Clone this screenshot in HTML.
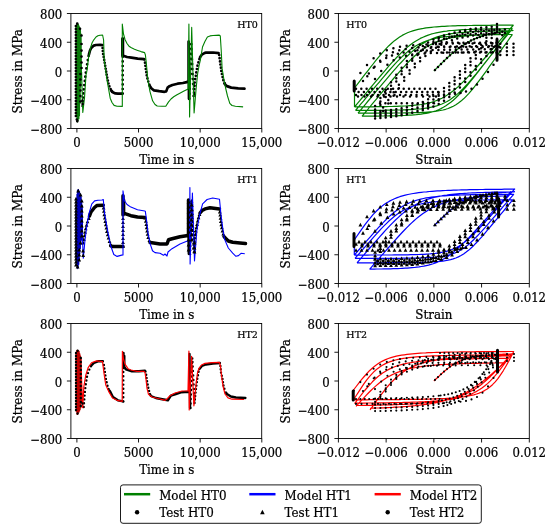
<!DOCTYPE html>
<html><head><meta charset="utf-8"><title>Figure</title>
<style>html,body{margin:0;padding:0;background:#fff;} svg{display:block;} text{font-family:'DejaVu Serif', 'Liberation Serif', serif;fill:#000;stroke:#000;stroke-width:0.22px;}</style>
</head><body>
<svg width="550" height="532" viewBox="0 0 550 532">
<rect width="550" height="532" fill="#fff"/>
<defs>
<clipPath id="cp00"><rect x="70.9" y="13.5" width="190.79999999999998" height="115"/></clipPath>
<clipPath id="cp01"><rect x="338.4" y="13.5" width="190.89999999999998" height="115"/></clipPath>
<clipPath id="cp10"><rect x="70.9" y="168.5" width="190.79999999999998" height="115"/></clipPath>
<clipPath id="cp11"><rect x="338.4" y="168.5" width="190.89999999999998" height="115"/></clipPath>
<clipPath id="cp20"><rect x="70.9" y="323.5" width="190.79999999999998" height="115"/></clipPath>
<clipPath id="cp21"><rect x="338.4" y="323.5" width="190.89999999999998" height="115"/></clipPath>
</defs>
<g clip-path="url(#cp00)">
<path d="M88.9 54.6L90 50.5L91.2 48L93.8 45.6L96 45L100 44.9L102.4 45.1M111.2 90.5L112.8 92.3L115.4 93.4L118 93.6L122.2 93.6M122.4 55.6L122.4 38.7M122.9 38.7L122.9 55.5L124 55.9L127 57L131.4 57.7L137.7 58.7L144.1 59.2M149.5 85.5L151.5 88.5L154 90.3L159.2 91.2L164.5 91.8L166.2 91.4L167.6 87.6L169.5 86.2L172.4 85L177.6 83.7L182.9 83L186.8 82.1L188.2 81.3M188.6 81.3L188.6 41.5L189 98.8M200 57.2L201.8 54.7L204.9 52.9L206 52.7L213 52.5L218.6 53.2M224.5 83.5L226.3 85.9L231.2 87.6L238.2 88.4L244.5 88.7" fill="none" stroke="#000" stroke-width="2.7" stroke-linejoin="round" stroke-linecap="round"/>
<path d="M82.6 106h0M82.7 101.8h0M82.9 97.6h0M83.4 93.4h0M83.8 89.3h0M84.3 85.1h0M84.8 80.9h0M85.3 76.7h0M85.8 72.6h0M86.4 68.4h0M87.1 64.3h0M87.8 60.1h0M88.6 56h0M102.6 48h0M102.8 51h0M103.1 54h0M103.7 56.9h0M104.2 59.9h0M104.7 62.8h0M105.2 65.8h0M105.7 68.8h0M106.2 71.7h0M106.7 74.7h0M107.2 77.6h0M107.9 80.6h0M108.5 83.5h0M109.4 86.3h0M110.6 89.1h0M112.1 91.7h0M122.7 93.6h0M122.7 89h0M122.7 84.4h0M122.7 79.8h0M122.7 75.2h0M122.7 70.6h0M122.7 66h0M122.7 61.4h0M122.7 56.8h0M144.4 59.5h0M145 62.7h0M145.4 65.8h0M145.8 69h0M146.3 72.2h0M146.7 75.3h0M147.4 78.4h0M148.3 81.5h0M149.3 84.5h0M189.3 98.8h0M189.5 93.8h0M189.7 88.8h0M189.9 83.8h0M190.1 78.8h0M190.3 73.8h0M190.5 68.8h0M190.7 63.8h0M190.8 58.8h0M191 53.8h0M191.2 48.8h0M191.3 44.2h0M191.5 49.2h0M191.7 54.2h0M191.9 59.2h0M192.1 64.1h0M192.3 69.1h0M192.6 74.1h0M193 79.1h0M193.3 84.1h0M193.7 89.1h0M194.1 94.1h0M193.6 96h0M194 92.6h0M194.4 89.2h0M194.6 85.8h0M194.7 82.5h0M195.2 79.1h0M195.8 75.8h0M196.3 72.4h0M196.9 69h0M197.5 65.7h0M198.4 62.4h0M199.4 59.2h0M219.2 55h0M219.6 58.2h0M220 61.4h0M220.4 64.5h0M220.9 67.7h0M221.3 70.9h0M221.9 74h0M222.6 77.1h0M223.3 80.2h0M224.6 83.2h0" stroke="#000" stroke-width="2.7" stroke-linecap="round"/>
<path d="M75.9 26L76.2 114.6L76.6 23.8L76.9 121.1L77.2 23.3L77.5 121.9L77.9 23.7L78.2 120.5L78.5 24.5L78.9 118.8L79.2 26L79.5 115.8L79.8 27.6L80.2 103.2L80.5 30.4L80.8 86.9L81.1 34.1L81.5 78" fill="none" stroke="#0a7a0a" stroke-width="1.1" stroke-linejoin="round"/>
<path d="M81.6 72L82.8 112.4L84.5 98L86 75L87.1 70L88.5 58L90.5 48L92 43L93.8 39.8L96 37L97.9 35.7L100 35.2L102.6 35L103.6 40L104.2 60L107 80L110.2 98.2L112 102.5L114.1 105.4L117 106.2L122.3 106.4L122.3 24.1L123.5 34L125 39.5L127 43.5L129 46.2L131.4 47.8L134.5 49.3L137.7 50.4L141 51.6L144.6 52.6L145.4 55L146.2 62L148 81L150 91.6L152.6 100.8L155 104.5L157.2 106L162 106.3L165.8 106.2L168.4 102.1L171 99L173.7 96.8L177 94.7L180.3 92.9L184 90.9L188.2 89L188.9 24.1L189.6 116.9L191.7 27.4L194.1 112.9L196 90L197.6 74L199 66L200.4 60L202.5 47L204.9 41.5L207.4 36.9L210 35.9L213 35.5L219.3 35.1L220.3 36L221.2 50L222.1 68.4L224 80L225.6 88L227.5 96L229.8 103.4L232 105.5L235.4 106.2L243.1 106.9" fill="none" stroke="#008000" stroke-width="1.1" stroke-linejoin="round"/>
<path d="M75.9 26h0M75.9 29h0M75.9 32h0M75.9 35h0M75.9 38h0M75.9 41h0M75.9 44h0M75.9 47h0M75.9 50h0M75.9 53h0M75.9 56h0M75.9 59h0M75.9 62h0M75.9 65h0M75.9 68h0M75.9 71h0M75.9 74h0M75.9 77h0M75.9 80h0M75.9 83h0M75.9 86h0M75.9 89h0M75.9 92h0M75.9 95h0M75.9 98h0M75.9 101h0M75.9 104h0M75.9 107h0M75.9 110h0M75.9 113h0M75.9 116h0M81.5 35.5h0M81.5 44h0M81.5 50.6h0M81.5 56.6h0M81.5 62.5h0M81.5 68h0M80.4 74h0M80.4 79.5h0M80.4 85h0M80.4 90.5h0M80.4 96h0M80.4 101.5h0M77.2 23.6h0M80 28.8h0M77.3 121.2h0M76.8 119.5h0M82.5 100.5h0M82.6 104h0" stroke="#000" stroke-width="2.7" stroke-linecap="round"/>
</g>
<g clip-path="url(#cp01)">
<path d="M433.9 71L435.2 69.7L436.5 68.3L437.8 67L439.2 65.7L440.5 64.4L441.8 63.1L443.1 61.8L444.5 60.5L445.8 59.2L447.1 58L448.5 56.8L449.8 55.5L451.1 54.4L452.4 53.2L453.8 52.1L455.1 51L456.4 49.9L457.7 48.9L459.1 47.9L460.4 47L461.7 46L463.1 45.2L464.4 44.3L465.7 43.5L467 42.7L468.4 42L469.7 41.3L471 40.6L472.3 40L473.7 39.4L475 38.8L476.3 38.2L477.7 37.7L479 37.2L480.3 36.8L481.6 36.3L483 35.9L484.3 35.5L485.6 35.1L486.9 34.8L488.3 34.4L489.6 34.1L490.9 33.8L492.3 33.5L493.6 33.2L494.9 33L496.2 32.7L497.6 32.5L498.9 32.3L500.2 32.1L501.6 31.9L502.9 31.7L504.2 31.5L505.5 31.3L506.9 31.2L508.2 31L509.5 30.9L510.8 30.7L512.2 30.6L513.5 30.5M354.5 88L357.1 84.6L359.8 81.1L362.4 77.7L365.1 74.2L367.8 70.8L370.4 67.4L373.1 64L375.7 60.7L378.4 57.4L381 54.3L383.6 51.3L386.3 48.4L388.9 45.7L391.6 43.2L394.2 40.9L396.9 38.9L399.6 37.1L402.2 35.4L404.9 34L407.5 32.8L410.1 31.8L412.8 30.9L415.4 30.1L418.1 29.4L420.8 28.8L423.4 28.4L426.1 27.9L428.7 27.6L431.4 27.3L434 27L436.6 26.8L439.3 26.6L441.9 26.4L444.6 26.3L447.2 26.1L449.9 26L452.6 25.9L455.2 25.8L457.9 25.7L460.5 25.7L463.1 25.6L465.8 25.6L468.4 25.5L471.1 25.5L473.8 25.4L476.4 25.4L479.1 25.4L481.7 25.3L484.4 25.3L487 25.3L489.6 25.3L492.3 25.2L494.9 25.2L497.6 25.2L500.2 25.2L502.9 25.2L505.6 25.2L508.2 25.2L510.9 25.1L513.5 25.1M513.5 25L510.9 28L508.2 31.1L505.6 34.1L502.9 37.2L500.2 40.2L497.6 43.3L494.9 46.3L492.3 49.4L489.6 52.4L487 55.5L484.4 58.5L481.7 61.5L479.1 64.5L476.4 67.5L473.8 70.5L471.1 73.4L468.4 76.3L465.8 79.1L463.1 81.8L460.5 84.4L457.9 86.9L455.2 89.2L452.6 91.3L449.9 93.3L447.2 95.1L444.6 96.7L441.9 98.2L439.3 99.4L436.6 100.5L434 101.5L431.4 102.3L428.7 103L426.1 103.6L423.4 104.1L420.8 104.5L418.1 104.8L415.4 105.1L412.8 105.4L410.1 105.6L407.5 105.8L404.9 106L402.2 106.1L399.6 106.2L396.9 106.3L394.2 106.4L391.6 106.5L388.9 106.5L386.3 106.6L383.6 106.6L381 106.7L378.4 106.7L375.7 106.7L373.1 106.8L370.4 106.8L367.8 106.8L365.1 106.8L362.4 106.8L359.8 106.9L357.1 106.9L354.5 106.9M354.5 107L357.1 103.8L359.8 100.7L362.4 97.5L365 94.4L367.7 91.2L370.3 88L372.9 84.9L375.6 81.7L378.2 78.6L380.8 75.5L383.5 72.4L386.1 69.3L388.7 66.2L391.4 63.2L394 60.3L396.6 57.5L399.3 54.8L401.9 52.2L404.5 49.7L407.2 47.4L409.8 45.2L412.4 43.3L415.1 41.5L417.7 39.9L420.3 38.4L423 37.2L425.6 36.1L428.2 35.1L430.9 34.2L433.5 33.5L436.1 32.9L438.8 32.3L441.4 31.8L444 31.4L446.7 31.1L449.3 30.7L451.9 30.5L454.6 30.3L457.2 30.1L459.8 29.9L462.5 29.7L465.1 29.6L467.7 29.5L470.4 29.4L473 29.3L475.6 29.2L478.3 29.1L480.9 29.1L483.5 29L486.2 29L488.8 28.9L491.4 28.9L494.1 28.9L496.7 28.8L499.3 28.8L502 28.8L504.6 28.7L507.2 28.7L509.9 28.7L512.5 28.7M512.5 28.5L509.9 31.8L507.3 35L504.6 38.3L502 41.6L499.4 44.9L496.8 48.1L494.2 51.4L491.6 54.7L488.9 57.9L486.3 61.2L483.7 64.4L481.1 67.7L478.5 70.9L475.9 74.1L473.2 77.2L470.6 80.3L468 83.3L465.4 86.1L462.8 88.9L460.2 91.5L457.6 93.9L454.9 96.1L452.3 98.1L449.7 99.9L447.1 101.5L444.5 102.8L441.9 104L439.2 105L436.6 105.9L434 106.6L431.4 107.2L428.8 107.7L426.1 108.1L423.5 108.5L420.9 108.8L418.3 109L415.7 109.2L413.1 109.4L410.4 109.6L407.8 109.7L405.2 109.8L402.6 109.9L400 110L397.4 110L394.8 110.1L392.1 110.1L389.5 110.2L386.9 110.2L384.3 110.3L381.7 110.3L379.1 110.3L376.4 110.3L373.8 110.3L371.2 110.4L368.6 110.4L366 110.4L363.4 110.4L360.7 110.4L358.1 110.4L355.5 110.4M355.5 110.5L358.1 107.4L360.7 104.2L363.4 101.1L366 97.9L368.6 94.8L371.2 91.7L373.8 88.5L376.4 85.4L379.1 82.3L381.7 79.2L384.3 76.1L386.9 73L389.5 70L392.1 67.1L394.8 64.2L397.4 61.4L400 58.8L402.6 56.2L405.2 53.8L407.8 51.6L410.4 49.6L413.1 47.7L415.7 46L418.3 44.5L420.9 43.2L423.5 42L426.1 41L428.8 40.1L431.4 39.4L434 38.7L436.6 38.1L439.2 37.6L441.9 37.2L444.5 36.8L447.1 36.5L449.7 36.3L452.3 36L454.9 35.8L457.6 35.6L460.2 35.5L462.8 35.4L465.4 35.2L468 35.1L470.6 35.1L473.2 35L475.9 34.9L478.5 34.8L481.1 34.8L483.7 34.7L486.3 34.7L488.9 34.7L491.6 34.6L494.2 34.6L496.8 34.6L499.4 34.6L502 34.5L504.6 34.5L507.3 34.5L509.9 34.5L512.5 34.5M512.5 34.3L509.9 37.9L507.4 41.5L504.8 45.1L502.2 48.7L499.6 52.3L497.1 55.9L494.5 59.5L491.9 63.1L489.3 66.7L486.8 70.3L484.2 73.8L481.6 77.4L479 80.8L476.4 84.2L473.9 87.5L471.3 90.6L468.7 93.6L466.1 96.3L463.6 98.8L461 101.1L458.4 103.1L455.9 104.8L453.3 106.2L450.7 107.4L448.1 108.5L445.6 109.3L443 110L440.4 110.5L437.8 111L435.2 111.4L432.7 111.7L430.1 111.9L427.5 112.1L424.9 112.3L422.4 112.4L419.8 112.6L417.2 112.7L414.6 112.7L412.1 112.8L409.5 112.9L406.9 112.9L404.4 112.9L401.8 113L399.2 113L396.6 113L394.1 113L391.5 113.1L388.9 113.1L386.3 113.1L383.8 113.1L381.2 113.1L378.6 113.1L376 113.1L373.4 113.1L370.9 113.1L368.3 113.2L365.7 113.2L363.1 113.2L360.6 113.2L358 113.2M358 113.2L360.5 110.2L363.1 107.1L365.6 104.1L368.1 101L370.7 98L373.2 95L375.7 91.9L378.3 88.9L380.8 85.9L383.3 82.8L385.9 79.8L388.4 76.8L390.9 73.9L393.5 70.9L396 68.1L398.5 65.2L401.1 62.5L403.6 59.8L406.1 57.2L408.7 54.7L411.2 52.4L413.7 50.2L416.3 48.1L418.8 46.2L421.3 44.5L423.9 42.9L426.4 41.5L428.9 40.2L431.5 39.1L434 38L436.5 37.1L439.1 36.4L441.6 35.7L444.1 35.1L446.7 34.5L449.2 34.1L451.7 33.7L454.3 33.3L456.8 33L459.3 32.7L461.9 32.5L464.4 32.3L466.9 32.1L469.5 31.9L472 31.8L474.5 31.6L477.1 31.5L479.6 31.4L482.1 31.3L484.7 31.3L487.2 31.2L489.7 31.1L492.3 31.1L494.8 31L497.3 31L499.9 30.9L502.4 30.9L504.9 30.9L507.5 30.8L510 30.8M510 30.5L507.5 33.7L505.1 36.9L502.6 40.1L500.1 43.3L497.7 46.5L495.2 49.7L492.7 52.9L490.3 56.2L487.8 59.4L485.3 62.6L482.9 65.7L480.4 68.9L477.9 72.1L475.5 75.2L473 78.4L470.5 81.4L468.1 84.4L465.6 87.4L463.1 90.2L460.7 92.9L458.2 95.5L455.7 98L453.3 100.2L450.8 102.3L448.3 104.1L445.9 105.8L443.4 107.3L440.9 108.6L438.5 109.7L436 110.7L433.5 111.5L431.1 112.2L428.6 112.8L426.1 113.3L423.7 113.7L421.2 114.1L418.7 114.4L416.3 114.7L413.8 114.9L411.3 115.1L408.9 115.2L406.4 115.4L403.9 115.5L401.5 115.6L399 115.7L396.5 115.8L394.1 115.8L391.6 115.9L389.1 115.9L386.7 116L384.2 116L381.7 116L379.3 116.1L376.8 116.1L374.3 116.1L371.9 116.1L369.4 116.1L366.9 116.2L364.5 116.2L362 116.2M362 116.3L364.4 113.4L366.9 110.5L369.3 107.5L371.7 104.6L374.2 101.7L376.6 98.8L379 95.9L381.5 92.9L383.9 90L386.3 87.1L388.8 84.2L391.2 81.4L393.6 78.5L396.1 75.7L398.5 72.9L400.9 70.1L403.4 67.4L405.8 64.8L408.2 62.2L410.7 59.8L413.1 57.5L415.5 55.2L418 53.2L420.4 51.2L422.8 49.4L425.3 47.8L427.7 46.3L430.1 44.9L432.6 43.7L435 42.6L437.4 41.6L439.9 40.7L442.3 39.9L444.7 39.3L447.2 38.7L449.6 38.1L452 37.7L454.5 37.3L456.9 36.9L459.3 36.6L461.8 36.3L464.2 36.1L466.6 35.9L469.1 35.7L471.5 35.5L473.9 35.4L476.4 35.2L478.8 35.1L481.2 35L483.7 34.9L486.1 34.8L488.5 34.7L491 34.7L493.4 34.6L495.8 34.6L498.3 34.5L500.7 34.5L503.1 34.4L505.6 34.4L508 34.4M354.5 107L354.5 88" fill="none" stroke="#008000" stroke-width="1.2" stroke-linejoin="round"/>
<path d="M354.2 81L354.2 91M497 39.4L497 60.3" fill="none" stroke="#000" stroke-width="3.0" stroke-linecap="round"/>
<path d="M435 69.9h0M438 66.9h0M441 63.9h0M444 61h0M447 58.1h0M450 55.3h0M453 52.7h0M456 50.3h0M459 48h0M462 45.9h0M465 43.9h0M468 42.2h0M471 40.6h0M474 39.2h0M477 38h0M480 36.9h0M483 35.9h0M486 35h0M489 34.3h0M492 33.6h0M495 33h0M360.4 73.1h0M367 64.9h0M373.6 58.3h0M380.2 53.6h0M386.8 50.3h0M393.4 48.2h0M400 46.8h0M406.6 45.8h0M413.2 45.2h0M419.8 44.7h0M426.4 44.4h0M433 44.1h0M439.6 43.9h0M446.2 43.8h0M452.8 43.6h0M459.4 43.6h0M466 43.5h0M472.6 43.4h0M479.2 43.4h0M485.8 43.3h0M492.4 43.3h0M367.3 76.2h0M373.7 67.8h0M380.1 60.7h0M386.5 55.6h0M392.9 52.3h0M399.3 50.2h0M405.7 49h0M412.1 48.1h0M418.5 47.6h0M424.9 47.2h0M431.3 47h0M437.7 46.8h0M444.1 46.6h0M450.5 46.5h0M456.9 46.4h0M463.3 46.4h0M469.7 46.3h0M476.1 46.3h0M482.5 46.2h0M488.9 46.2h0M495.3 46.2h0M363 81h0M368.8 73.4h0M374.6 66.8h0M380.4 61.7h0M386.2 58h0M392 55.4h0M397.8 53.7h0M403.6 52.5h0M409.4 51.7h0M415.2 51.1h0M421 50.7h0M426.8 50.4h0M432.6 50.1h0M438.4 49.9h0M444.2 49.8h0M450 49.7h0M455.8 49.6h0M461.6 49.5h0M467.4 49.4h0M473.2 49.4h0M479 49.3h0M484.8 49.3h0M490.6 49.3h0M496.4 49.2h0M375 79h0M381.2 71.1h0M387.4 64.7h0M393.6 60.2h0M399.8 57.4h0M406 55.7h0M412.2 54.6h0M418.4 53.9h0M424.6 53.4h0M430.8 53.1h0M437 52.9h0M443.2 52.7h0M449.4 52.6h0M455.6 52.5h0M461.8 52.4h0M468 52.3h0M474.2 52.3h0M480.4 52.3h0M486.6 52.2h0M492.8 52.2h0M375.1 111.4h0M380.4 111h0M385.7 110.5h0M391 109.9h0M396.3 109.2h0M401.6 108.3h0M406.9 107.2h0M412.2 105.8h0M417.5 104.1h0M422.8 101.9h0M428.1 99.3h0M433.4 96.1h0M438.7 92.3h0M444 87.9h0M449.3 82.9h0M454.6 77.3h0M459.9 71.3h0M465.2 64.9h0M470.5 58.3h0M475.8 51.5h0M481.1 44.7h0M486.4 37.8h0M491.7 30.9h0M497 24h0M375.1 105.9h0M380.4 97.9h0M385.7 90h0M391 82.3h0M396.3 74.8h0M401.6 67.7h0M406.9 61.1h0M412.2 55.3h0M417.5 50.3h0M422.8 46h0M428.1 42.5h0M433.4 39.6h0M438.7 37.4h0M444 35.5h0M449.3 34.1h0M454.6 32.9h0M459.9 32h0M465.2 31.3h0M470.5 30.7h0M475.8 30.2h0M481.1 29.8h0M486.4 29.5h0M491.7 29.2h0M497 29h0M375.1 114.9h0M380.4 114.5h0M385.7 114h0M391 113.4h0M396.3 112.7h0M401.6 111.8h0M406.9 110.7h0M412.2 109.3h0M417.5 107.6h0M422.8 105.4h0M428.1 102.8h0M433.4 99.6h0M438.7 95.8h0M444 91.4h0M449.3 86.4h0M454.6 80.8h0M459.9 74.8h0M465.2 68.4h0M470.5 61.8h0M475.8 55h0M481.1 48.2h0M486.4 41.3h0M491.7 34.4h0M497 27.5h0M375.1 109.4h0M380.4 101.4h0M385.7 93.5h0M391 85.8h0M396.3 78.3h0M401.6 71.2h0M406.9 64.6h0M412.2 58.8h0M417.5 53.8h0M422.8 49.5h0M428.1 46h0M433.4 43.1h0M438.7 40.9h0M444 39h0M449.3 37.6h0M454.6 36.4h0M459.9 35.5h0M465.2 34.8h0M470.5 34.2h0M475.8 33.7h0M481.1 33.3h0M486.4 33h0M491.7 32.7h0M497 32.5h0M375.1 118.4h0M380.4 118h0M385.7 117.5h0M391 116.9h0M396.3 116.2h0M401.6 115.3h0M406.9 114.2h0M412.2 112.8h0M417.5 111.1h0M422.8 108.9h0M428.1 106.3h0M433.4 103.1h0M438.7 99.3h0M444 94.9h0M449.3 89.9h0M454.6 84.3h0M459.9 78.3h0M465.2 71.9h0M470.5 65.3h0M475.8 58.5h0M481.1 51.7h0M486.4 44.8h0M491.7 37.9h0M497 31h0M375.1 112.9h0M380.4 104.9h0M385.7 97h0M391 89.2h0M396.3 81.5h0M401.6 74.2h0M406.9 67.2h0M412.2 60.8h0M417.5 55h0M422.8 50h0M428.1 45.6h0M433.4 41.9h0M438.7 38.8h0M444 36.3h0M449.3 34.2h0M454.6 32.5h0M459.9 31.2h0M465.2 30h0M470.5 29.1h0M475.8 28.4h0M481.1 27.7h0M486.4 27.2h0M491.7 26.8h0M497 26.4h0M356 95h0M361.5 95h0M367 95h0M372.5 95h0M378 95h0M383.5 95h0M389 95h0M394.5 95h0M400 95h0M405.5 94.9h0M411 94.9h0M416.5 94.9h0M422 94.9h0M427.5 94.8h0M433 94.7h0M438.5 94.6h0M444 94.5h0M449.5 94.2h0M455 93.7h0M460.5 92.9h0M466 91.4h0M471.5 88.8h0M477 84.6h0M482.5 78.8h0M488 72h0M493.5 64.8h0M375.1 112.6h0M380.4 112.3h0M385.7 112h0M391 111.7h0M396.3 111.2h0M401.6 110.7h0M406.9 110h0M412.2 109.1h0M417.5 108.1h0M422.8 106.7h0M428.1 105h0M433.4 102.9h0M438.7 100.4h0M444 97.2h0M449.3 93.4h0M454.6 89h0M459.9 84h0M465.2 78.4h0M470.5 72.3h0M475.8 65.9h0M481.1 59.2h0M486.4 52.4h0M491.7 45.6h0M497 38.7h0M502.3 31.8h0M375.1 116.1h0M380.4 115.8h0M385.7 115.5h0M391 115.2h0M396.3 114.7h0M401.6 114.2h0M406.9 113.5h0M412.2 112.6h0M417.5 111.6h0M422.8 110.2h0M428.1 108.5h0M433.4 106.4h0M438.7 103.9h0M444 100.7h0M449.3 96.9h0M454.6 92.5h0M459.9 87.5h0M465.2 81.9h0M470.5 75.8h0M475.8 69.4h0M481.1 62.7h0M486.4 55.9h0M491.7 49.1h0M497 42.2h0M502.3 35.3h0M383.1 107.6h0M388.3 99.9h0M393.6 92.2h0M398.9 84.7h0M404.2 77.3h0M409.6 70.2h0M414.8 63.7h0M420.1 57.7h0M425.4 52.5h0M430.8 48h0M436 44.3h0M441.3 41.2h0M446.6 38.7h0M451.9 36.7h0M457.2 35.1h0M462.5 33.9h0M467.8 32.9h0M473.1 32.1h0M478.4 31.4h0M483.8 30.9h0M489 30.5h0M494.3 30.1h0M499.6 29.8h0M504.9 29.6h0M383.1 111.1h0M388.3 103.4h0M393.6 95.7h0M398.9 88.2h0M404.2 80.8h0M409.6 73.7h0M414.8 67.2h0M420.1 61.2h0M425.4 56h0M430.8 51.5h0M436 47.8h0M441.3 44.7h0M446.6 42.2h0M451.9 40.2h0M457.2 38.6h0M462.5 37.4h0M467.8 36.4h0M473.1 35.6h0M478.4 34.9h0M483.8 34.4h0M489 34h0M494.3 33.6h0M499.6 33.3h0M504.9 33.1h0M356 88.8h0M361.3 88.8h0M366.6 88.8h0M371.9 88.8h0M377.2 88.8h0M382.5 88.8h0M387.8 88.8h0M393.1 88.8h0M398.4 88.8h0M403.7 88.8h0M409 88.8h0M414.3 88.8h0M419.6 88.8h0M424.9 88.8h0M430.2 88.8h0M435.5 88.8h0M358.6 92.1h0M363.9 92.1h0M369.2 92.1h0M374.5 92.1h0M379.8 92.1h0M385.1 92.1h0M390.4 92.1h0M395.7 92.1h0M401 92.1h0M406.3 92.1h0M411.6 92.1h0M416.9 92.1h0M422.2 92.1h0M427.5 92.1h0M432.8 92.1h0M438.1 92.1h0M358 96.5h0M364.5 96.5h0M371 96.5h0M377.5 96.5h0M384 96.5h0M390.5 96.5h0M397 96.5h0M403.5 96.5h0M410 96.5h0M416.5 96.5h0M423 96.5h0M429.5 96.5h0M436 96.5h0M380 103.2h0M385.4 103.2h0M390.8 103.2h0M396.2 103.2h0M401.6 103.2h0M407 103.2h0M412.4 103.2h0M417.8 103.2h0M423.2 103.2h0M428.6 103.2h0M434 103.2h0M436 42.7h0M441.5 42.7h0M447 42.7h0M452.5 42.7h0M458 42.7h0M463.5 42.7h0M469 42.7h0M474.5 42.7h0M480 42.7h0M485.5 42.7h0M491 42.7h0M496.5 42.7h0M438.7 47h0M444.2 47h0M449.7 47h0M455.2 47h0M460.7 47h0M466.2 47h0M471.7 47h0M477.2 47h0M482.7 47h0M488.2 47h0M493.7 47h0M499.2 47h0M441.5 52.6h0M447 52.6h0M452.5 52.6h0M458 52.6h0M463.5 52.6h0M469 52.6h0M474.5 52.6h0M480 52.6h0M485.5 52.6h0M491 52.6h0M496.5 52.6h0M500.3 43.8h0M500.3 47.5h0M500.3 51.2h0M500.3 54.9h0M506.9 43.8h0M506.9 47.5h0M506.9 51.2h0M506.9 54.9h0M513.5 43.8h0M513.5 47.5h0M513.5 51.2h0M513.5 54.9h0" stroke="#000" stroke-width="2.5" stroke-linecap="round"/>
</g>
<g clip-path="url(#cp11)">
<path d="M433.9 226L435.2 224.6L436.6 223.3L437.9 221.9L439.3 220.6L440.6 219.3L442 218L443.3 216.7L444.7 215.4L446 214.1L447.4 212.9L448.7 211.7L450.1 210.6L451.4 209.5L452.8 208.4L454.1 207.4L455.5 206.4L456.8 205.5L458.2 204.6L459.5 203.7L460.9 202.9L462.3 202.2L463.6 201.5L465 200.8L466.3 200.2L467.7 199.6L469 199L470.4 198.5L471.7 198L473.1 197.6L474.4 197.2L475.8 196.8L477.1 196.4L478.5 196.1L479.8 195.7L481.2 195.4L482.5 195.1L483.9 194.9L485.2 194.6L486.6 194.4L487.9 194.2L489.3 194L490.7 193.8L492 193.6L493.4 193.4L494.7 193.3L496.1 193.1L497.4 193L498.8 192.8L500.1 192.7L501.5 192.6L502.8 192.5L504.2 192.4L505.5 192.3L506.9 192.2L508.2 192.1L509.6 192L510.9 191.9L512.3 191.9L513.6 191.8L515 191.7M354.3 239.9L357 236L359.7 232.2L362.3 228.4L365 224.7L367.7 221.1L370.4 217.8L373 214.7L375.7 211.8L378.4 209.2L381.1 206.9L383.8 204.8L386.4 203L389.1 201.4L391.8 200L394.5 198.7L397.2 197.6L399.8 196.7L402.5 195.9L405.2 195.2L407.9 194.5L410.5 194L413.2 193.5L415.9 193.1L418.6 192.7L421.3 192.3L423.9 192L426.6 191.8L429.3 191.5L432 191.3L434.6 191.1L437.3 190.9L440 190.8L442.7 190.6L445.4 190.5L448 190.4L450.7 190.3L453.4 190.2L456.1 190.1L458.8 190L461.4 189.9L464.1 189.9L466.8 189.8L469.5 189.7L472.1 189.7L474.8 189.6L477.5 189.6L480.2 189.5L482.9 189.5L485.5 189.4L488.2 189.4L490.9 189.4L493.6 189.3L496.3 189.3L498.9 189.3L501.6 189.3L504.3 189.2L507 189.2L509.6 189.2L512.3 189.2L515 189.2M515 188.7L512.3 191.7L509.6 194.7L507 197.7L504.3 200.7L501.6 203.7L498.9 206.7L496.3 209.7L493.6 212.7L490.9 215.7L488.2 218.7L485.5 221.6L482.9 224.5L480.2 227.4L477.5 230.3L474.8 233L472.1 235.6L469.5 238.1L466.8 240.5L464.1 242.6L461.4 244.5L458.8 246.2L456.1 247.7L453.4 248.9L450.7 250L448 250.9L445.4 251.6L442.7 252.2L440 252.7L437.3 253.1L434.6 253.5L432 253.7L429.3 254L426.6 254.1L423.9 254.3L421.3 254.4L418.6 254.5L415.9 254.6L413.2 254.7L410.5 254.7L407.9 254.8L405.2 254.8L402.5 254.9L399.8 254.9L397.2 254.9L394.5 254.9L391.8 255L389.1 255L386.4 255L383.8 255L381.1 255L378.4 255L375.7 255L373 255L370.4 255L367.7 255.1L365 255.1L362.3 255.1L359.7 255.1L357 255.1L354.3 255.1M354.3 255.1L357 252L359.6 249L362.3 245.9L364.9 242.9L367.6 239.8L370.3 236.8L372.9 233.8L375.6 230.8L378.2 227.8L380.9 225L383.6 222.2L386.2 219.5L388.9 216.9L391.5 214.5L394.2 212.3L396.9 210.2L399.5 208.3L402.2 206.6L404.8 205.1L407.5 203.7L410.2 202.5L412.8 201.5L415.5 200.6L418.1 199.8L420.8 199.1L423.5 198.5L426.1 197.9L428.8 197.5L431.4 197.1L434.1 196.8L436.8 196.5L439.4 196.2L442.1 196L444.7 195.8L447.4 195.6L450.1 195.5L452.7 195.3L455.4 195.2L458 195.1L460.7 195L463.4 194.9L466 194.9L468.7 194.8L471.3 194.7L474 194.7L476.7 194.6L479.3 194.6L482 194.5L484.6 194.5L487.3 194.5L490 194.5L492.6 194.4L495.3 194.4L497.9 194.4L500.6 194.4L503.3 194.3L505.9 194.3L508.6 194.3L511.2 194.3L513.9 194.3M513.9 194.1L511.3 197.2L508.6 200.2L506 203.3L503.3 206.4L500.7 209.5L498 212.5L495.4 215.6L492.7 218.7L490.1 221.7L487.4 224.8L484.8 227.8L482.1 230.8L479.5 233.7L476.8 236.5L474.2 239.2L471.5 241.8L468.9 244.2L466.2 246.4L463.6 248.3L460.9 250L458.3 251.5L455.6 252.7L453 253.8L450.3 254.6L447.7 255.3L445 255.9L442.4 256.3L439.7 256.7L437.1 257L434.4 257.2L431.8 257.4L429.2 257.6L426.5 257.7L423.9 257.8L421.2 257.9L418.6 258L415.9 258.1L413.3 258.1L410.6 258.1L408 258.2L405.3 258.2L402.7 258.2L400 258.3L397.4 258.3L394.7 258.3L392.1 258.3L389.4 258.3L386.8 258.3L384.1 258.3L381.5 258.3L378.8 258.3L376.2 258.4L373.5 258.4L370.9 258.4L368.2 258.4L365.6 258.4L362.9 258.4L360.3 258.4L357.6 258.4L355 258.4M355 258.4L357.6 255.4L360.3 252.3L362.9 249.3L365.5 246.3L368.2 243.3L370.8 240.3L373.4 237.3L376.1 234.3L378.7 231.5L381.3 228.6L384 225.9L386.6 223.3L389.2 220.8L391.9 218.5L394.5 216.3L397.1 214.3L399.8 212.5L402.4 210.9L405 209.5L407.7 208.2L410.3 207.1L412.9 206.2L415.6 205.3L418.2 204.6L420.8 204L423.5 203.4L426.1 203L428.7 202.6L431.4 202.2L434 201.9L436.6 201.7L439.3 201.4L441.9 201.2L444.5 201.1L447.2 200.9L449.8 200.8L452.4 200.7L455.1 200.6L457.7 200.5L460.3 200.4L463 200.3L465.6 200.3L468.2 200.2L470.9 200.1L473.5 200.1L476.1 200.1L478.8 200L481.4 200L484 200L486.7 199.9L489.3 199.9L491.9 199.9L494.6 199.9L497.2 199.8L499.8 199.8L502.5 199.8L505.1 199.8L507.7 199.8L510.4 199.8L513 199.8M513 199.6L510.4 202.7L507.8 205.8L505.2 209L502.6 212.1L500 215.2L497.4 218.3L494.8 221.4L492.2 224.5L489.6 227.6L487 230.7L484.4 233.8L481.8 236.8L479.2 239.7L476.6 242.5L474 245.2L471.4 247.7L468.8 250.1L466.2 252.1L463.6 254L461 255.5L458.4 256.9L455.8 258L453.2 258.9L450.6 259.6L448 260.2L445.4 260.7L442.8 261.1L440.2 261.4L437.6 261.7L435 261.9L432.4 262L429.8 262.1L427.2 262.3L424.6 262.3L422 262.4L419.4 262.5L416.8 262.5L414.2 262.6L411.6 262.6L409 262.6L406.4 262.6L403.8 262.7L401.2 262.7L398.6 262.7L396 262.7L393.4 262.7L390.8 262.7L388.2 262.7L385.6 262.7L383 262.8L380.4 262.8L377.8 262.8L375.2 262.8L372.6 262.8L370 262.8L367.4 262.8L364.8 262.8L362.2 262.8L359.6 262.8L357 262.8M357 262.8L359.6 259.8L362.1 256.9L364.7 253.9L367.3 251L369.8 248L372.4 245.1L375 242.2L377.5 239.3L380.1 236.4L382.7 233.5L385.2 230.7L387.8 227.9L390.4 225.2L392.9 222.6L395.5 220L398.1 217.6L400.6 215.3L403.2 213.1L405.8 211.1L408.3 209.2L410.9 207.4L413.5 205.8L416 204.4L418.6 203L421.2 201.8L423.7 200.8L426.3 199.8L428.9 198.9L431.4 198.2L434 197.5L436.6 196.9L439.1 196.3L441.7 195.9L444.3 195.4L446.8 195.1L449.4 194.7L452 194.4L454.5 194.1L457.1 193.9L459.7 193.7L462.2 193.5L464.8 193.3L467.4 193.2L469.9 193L472.5 192.9L475.1 192.8L477.6 192.7L480.2 192.6L482.8 192.5L485.3 192.4L487.9 192.4L490.5 192.3L493 192.2L495.6 192.2L498.2 192.1L500.7 192.1L503.3 192.1L505.9 192L508.4 192L511 192M511 191.5L508.6 194.1L506.3 196.7L503.9 199.3L501.6 201.9L499.2 204.5L496.9 207.1L494.5 209.6L492.1 212.2L489.8 214.8L487.4 217.4L485.1 220L482.7 222.6L480.4 225.2L478 227.7L475.6 230.3L473.3 232.8L470.9 235.3L468.6 237.8L466.2 240.2L463.9 242.6L461.5 244.9L459.2 247.2L456.8 249.3L454.4 251.4L452.1 253.3L449.7 255.1L447.4 256.7L445 258.2L442.7 259.6L440.3 260.8L437.9 261.9L435.6 262.9L433.2 263.7L430.9 264.4L428.5 265.1L426.2 265.6L423.8 266.1L421.4 266.5L419.1 266.9L416.7 267.2L414.4 267.5L412 267.7L409.7 267.9L407.3 268.1L405 268.2L402.6 268.3L400.2 268.5L397.9 268.6L395.5 268.6L393.2 268.7L390.8 268.8L388.5 268.8L386.1 268.9L383.7 268.9L381.4 269L379 269L376.7 269L374.3 269.1L372 269.1L369.6 269.1M369.6 269.3L371.9 266.6L374.2 264L376.6 261.3L378.9 258.6L381.2 255.9L383.5 253.3L385.9 250.6L388.2 248L390.5 245.3L392.8 242.7L395.2 240.1L397.5 237.5L399.8 235L402.1 232.5L404.5 230L406.8 227.6L409.1 225.3L411.4 223.1L413.7 221L416.1 218.9L418.4 217L420.7 215.2L423 213.5L425.4 211.9L427.7 210.4L430 209L432.3 207.8L434.7 206.6L437 205.6L439.3 204.6L441.6 203.7L443.9 202.9L446.3 202.2L448.6 201.6L450.9 201L453.2 200.4L455.6 200L457.9 199.5L460.2 199.2L462.5 198.8L464.9 198.5L467.2 198.2L469.5 197.9L471.8 197.7L474.1 197.5L476.5 197.3L478.8 197.1L481.1 197L483.4 196.8L485.8 196.7L488.1 196.6L490.4 196.4L492.7 196.3L495.1 196.3L497.4 196.2L499.7 196.1L502 196L504.4 196L506.7 195.9L509 195.8M354.3 255.1L354.3 239.9" fill="none" stroke="#0000ff" stroke-width="1.2" stroke-linejoin="round"/>
<path d="M354 233.4L354 246.4M498.6 198.5L498.6 217" fill="none" stroke="#000" stroke-width="3.0" stroke-linecap="round"/>
<path d="M433.1 226.3h3.8l-1.9 -3.6zM436.1 223.3h3.8l-1.9 -3.6zM439.1 220.3h3.8l-1.9 -3.6zM442.1 217.5h3.8l-1.9 -3.6zM445.1 214.7h3.8l-1.9 -3.6zM448.1 212.1h3.8l-1.9 -3.6zM451.1 209.7h3.8l-1.9 -3.6zM454.1 207.5h3.8l-1.9 -3.6zM457.1 205.5h3.8l-1.9 -3.6zM460.1 203.8h3.8l-1.9 -3.6zM463.1 202.2h3.8l-1.9 -3.6zM466.1 200.9h3.8l-1.9 -3.6zM469.1 199.7h3.8l-1.9 -3.6zM472.1 198.7h3.8l-1.9 -3.6zM475.1 197.9h3.8l-1.9 -3.6zM478.1 197.1h3.8l-1.9 -3.6zM481.1 196.5h3.8l-1.9 -3.6zM484.1 195.9h3.8l-1.9 -3.6zM487.1 195.5h3.8l-1.9 -3.6zM490.1 195h3.8l-1.9 -3.6zM493.1 194.7h3.8l-1.9 -3.6zM358.5 226.4h3.8l-1.9 -3.6zM365.1 218.3h3.8l-1.9 -3.6zM371.7 212.4h3.8l-1.9 -3.6zM378.3 208.5h3.8l-1.9 -3.6zM384.9 206.1h3.8l-1.9 -3.6zM391.5 204.7h3.8l-1.9 -3.6zM398.1 203.8h3.8l-1.9 -3.6zM404.7 203.2h3.8l-1.9 -3.6zM411.3 202.7h3.8l-1.9 -3.6zM417.9 202.5h3.8l-1.9 -3.6zM424.5 202.2h3.8l-1.9 -3.6zM431.1 202.1h3.8l-1.9 -3.6zM437.7 202h3.8l-1.9 -3.6zM444.3 201.9h3.8l-1.9 -3.6zM450.9 201.8h3.8l-1.9 -3.6zM457.5 201.8h3.8l-1.9 -3.6zM464.1 201.7h3.8l-1.9 -3.6zM470.7 201.7h3.8l-1.9 -3.6zM477.3 201.7h3.8l-1.9 -3.6zM483.9 201.6h3.8l-1.9 -3.6zM490.5 201.6h3.8l-1.9 -3.6zM365.4 230h3.8l-1.9 -3.6zM371.8 221.5h3.8l-1.9 -3.6zM378.2 214.8h3.8l-1.9 -3.6zM384.6 210.6h3.8l-1.9 -3.6zM391 208.2h3.8l-1.9 -3.6zM397.4 206.9h3.8l-1.9 -3.6zM403.8 206.1h3.8l-1.9 -3.6zM410.2 205.6h3.8l-1.9 -3.6zM416.6 205.3h3.8l-1.9 -3.6zM423 205.1h3.8l-1.9 -3.6zM429.4 205h3.8l-1.9 -3.6zM435.8 204.9h3.8l-1.9 -3.6zM442.2 204.8h3.8l-1.9 -3.6zM448.6 204.7h3.8l-1.9 -3.6zM455 204.7h3.8l-1.9 -3.6zM461.4 204.6h3.8l-1.9 -3.6zM467.8 204.6h3.8l-1.9 -3.6zM474.2 204.6h3.8l-1.9 -3.6zM480.6 204.6h3.8l-1.9 -3.6zM487 204.6h3.8l-1.9 -3.6zM493.4 204.5h3.8l-1.9 -3.6zM361.1 234.7h3.8l-1.9 -3.6zM366.9 227h3.8l-1.9 -3.6zM372.7 220.7h3.8l-1.9 -3.6zM378.5 216.2h3.8l-1.9 -3.6zM384.3 213.3h3.8l-1.9 -3.6zM390.1 211.5h3.8l-1.9 -3.6zM395.9 210.3h3.8l-1.9 -3.6zM401.7 209.5h3.8l-1.9 -3.6zM407.5 209h3.8l-1.9 -3.6zM413.3 208.7h3.8l-1.9 -3.6zM419.1 208.4h3.8l-1.9 -3.6zM424.9 208.2h3.8l-1.9 -3.6zM430.7 208.1h3.8l-1.9 -3.6zM436.5 208h3.8l-1.9 -3.6zM442.3 207.9h3.8l-1.9 -3.6zM448.1 207.8h3.8l-1.9 -3.6zM453.9 207.8h3.8l-1.9 -3.6zM459.7 207.7h3.8l-1.9 -3.6zM465.5 207.7h3.8l-1.9 -3.6zM471.3 207.7h3.8l-1.9 -3.6zM477.1 207.6h3.8l-1.9 -3.6zM482.9 207.6h3.8l-1.9 -3.6zM488.7 207.6h3.8l-1.9 -3.6zM494.5 207.6h3.8l-1.9 -3.6zM373.1 232.7h3.8l-1.9 -3.6zM379.3 224.7h3.8l-1.9 -3.6zM385.5 219h3.8l-1.9 -3.6zM391.7 215.5h3.8l-1.9 -3.6zM397.9 213.6h3.8l-1.9 -3.6zM404.1 212.5h3.8l-1.9 -3.6zM410.3 211.9h3.8l-1.9 -3.6zM416.5 211.5h3.8l-1.9 -3.6zM422.7 211.2h3.8l-1.9 -3.6zM428.9 211h3.8l-1.9 -3.6zM435.1 210.9h3.8l-1.9 -3.6zM441.3 210.8h3.8l-1.9 -3.6zM447.5 210.7h3.8l-1.9 -3.6zM453.7 210.7h3.8l-1.9 -3.6zM459.9 210.7h3.8l-1.9 -3.6zM466.1 210.6h3.8l-1.9 -3.6zM472.3 210.6h3.8l-1.9 -3.6zM478.5 210.6h3.8l-1.9 -3.6zM484.7 210.6h3.8l-1.9 -3.6zM490.9 210.5h3.8l-1.9 -3.6zM373.2 260.7h3.8l-1.9 -3.6zM378.5 260.6h3.8l-1.9 -3.6zM383.8 260.5h3.8l-1.9 -3.6zM389.1 260.4h3.8l-1.9 -3.6zM394.4 260.3h3.8l-1.9 -3.6zM399.7 260.1h3.8l-1.9 -3.6zM405 259.8h3.8l-1.9 -3.6zM410.3 259.5h3.8l-1.9 -3.6zM415.6 258.9h3.8l-1.9 -3.6zM420.9 258.2h3.8l-1.9 -3.6zM426.2 257.2h3.8l-1.9 -3.6zM431.5 255.7h3.8l-1.9 -3.6zM436.8 253.7h3.8l-1.9 -3.6zM442.1 251h3.8l-1.9 -3.6zM447.4 247.4h3.8l-1.9 -3.6zM452.7 243h3.8l-1.9 -3.6zM458 237.9h3.8l-1.9 -3.6zM463.3 232.1h3.8l-1.9 -3.6zM468.6 226.1h3.8l-1.9 -3.6zM473.9 219.8h3.8l-1.9 -3.6zM479.2 213.5h3.8l-1.9 -3.6zM484.5 207.2h3.8l-1.9 -3.6zM489.8 200.8h3.8l-1.9 -3.6zM495.1 194.4h3.8l-1.9 -3.6zM373.2 253.8h3.8l-1.9 -3.6zM378.5 246.5h3.8l-1.9 -3.6zM383.8 239.3h3.8l-1.9 -3.6zM389.1 232.7h3.8l-1.9 -3.6zM394.4 226.6h3.8l-1.9 -3.6zM399.7 221.3h3.8l-1.9 -3.6zM405 216.9h3.8l-1.9 -3.6zM410.3 213.2h3.8l-1.9 -3.6zM415.6 210.2h3.8l-1.9 -3.6zM420.9 207.9h3.8l-1.9 -3.6zM426.2 206h3.8l-1.9 -3.6zM431.5 204.5h3.8l-1.9 -3.6zM436.8 203.3h3.8l-1.9 -3.6zM442.1 202.4h3.8l-1.9 -3.6zM447.4 201.6h3.8l-1.9 -3.6zM452.7 201h3.8l-1.9 -3.6zM458 200.5h3.8l-1.9 -3.6zM463.3 200.1h3.8l-1.9 -3.6zM468.6 199.7h3.8l-1.9 -3.6zM473.9 199.4h3.8l-1.9 -3.6zM479.2 199.2h3.8l-1.9 -3.6zM484.5 199h3.8l-1.9 -3.6zM489.8 198.8h3.8l-1.9 -3.6zM495.1 198.7h3.8l-1.9 -3.6zM373.2 264.2h3.8l-1.9 -3.6zM378.5 264.1h3.8l-1.9 -3.6zM383.8 264h3.8l-1.9 -3.6zM389.1 263.9h3.8l-1.9 -3.6zM394.4 263.8h3.8l-1.9 -3.6zM399.7 263.6h3.8l-1.9 -3.6zM405 263.3h3.8l-1.9 -3.6zM410.3 262.9h3.8l-1.9 -3.6zM415.6 262.4h3.8l-1.9 -3.6zM420.9 261.6h3.8l-1.9 -3.6zM426.2 260.5h3.8l-1.9 -3.6zM431.5 259h3.8l-1.9 -3.6zM436.8 257h3.8l-1.9 -3.6zM442.1 254.2h3.8l-1.9 -3.6zM447.4 250.5h3.8l-1.9 -3.6zM452.7 246.1h3.8l-1.9 -3.6zM458 240.9h3.8l-1.9 -3.6zM463.3 235.2h3.8l-1.9 -3.6zM468.6 229.1h3.8l-1.9 -3.6zM473.9 222.8h3.8l-1.9 -3.6zM479.2 216.5h3.8l-1.9 -3.6zM484.5 210.2h3.8l-1.9 -3.6zM489.8 203.8h3.8l-1.9 -3.6zM495.1 197.4h3.8l-1.9 -3.6zM373.2 257.3h3.8l-1.9 -3.6zM378.5 250h3.8l-1.9 -3.6zM383.8 242.8h3.8l-1.9 -3.6zM389.1 236.1h3.8l-1.9 -3.6zM394.4 230.1h3.8l-1.9 -3.6zM399.7 224.8h3.8l-1.9 -3.6zM405 220.3h3.8l-1.9 -3.6zM410.3 216.5h3.8l-1.9 -3.6zM415.6 213.5h3.8l-1.9 -3.6zM420.9 211.1h3.8l-1.9 -3.6zM426.2 209.2h3.8l-1.9 -3.6zM431.5 207.7h3.8l-1.9 -3.6zM436.8 206.5h3.8l-1.9 -3.6zM442.1 205.5h3.8l-1.9 -3.6zM447.4 204.7h3.8l-1.9 -3.6zM452.7 204.1h3.8l-1.9 -3.6zM458 203.6h3.8l-1.9 -3.6zM463.3 203.1h3.8l-1.9 -3.6zM468.6 202.8h3.8l-1.9 -3.6zM473.9 202.5h3.8l-1.9 -3.6zM479.2 202.2h3.8l-1.9 -3.6zM484.5 202h3.8l-1.9 -3.6zM489.8 201.9h3.8l-1.9 -3.6zM495.1 201.7h3.8l-1.9 -3.6zM373.2 267.2h3.8l-1.9 -3.6zM378.5 267.1h3.8l-1.9 -3.6zM383.8 267h3.8l-1.9 -3.6zM389.1 266.9h3.8l-1.9 -3.6zM394.4 266.8h3.8l-1.9 -3.6zM399.7 266.6h3.8l-1.9 -3.6zM405 266.3h3.8l-1.9 -3.6zM410.3 265.9h3.8l-1.9 -3.6zM415.6 265.4h3.8l-1.9 -3.6zM420.9 264.6h3.8l-1.9 -3.6zM426.2 263.5h3.8l-1.9 -3.6zM431.5 262h3.8l-1.9 -3.6zM436.8 260h3.8l-1.9 -3.6zM442.1 257.2h3.8l-1.9 -3.6zM447.4 253.5h3.8l-1.9 -3.6zM452.7 249.1h3.8l-1.9 -3.6zM458 243.9h3.8l-1.9 -3.6zM463.3 238.2h3.8l-1.9 -3.6zM468.6 232.1h3.8l-1.9 -3.6zM473.9 225.8h3.8l-1.9 -3.6zM479.2 219.5h3.8l-1.9 -3.6zM484.5 213.2h3.8l-1.9 -3.6zM489.8 206.8h3.8l-1.9 -3.6zM495.1 200.4h3.8l-1.9 -3.6zM373.2 260.3h3.8l-1.9 -3.6zM378.5 252.9h3.8l-1.9 -3.6zM383.8 245.7h3.8l-1.9 -3.6zM389.1 238.8h3.8l-1.9 -3.6zM394.4 232.4h3.8l-1.9 -3.6zM399.7 226.5h3.8l-1.9 -3.6zM405 221.4h3.8l-1.9 -3.6zM410.3 217h3.8l-1.9 -3.6zM415.6 213.2h3.8l-1.9 -3.6zM420.9 210.1h3.8l-1.9 -3.6zM426.2 207.5h3.8l-1.9 -3.6zM431.5 205.4h3.8l-1.9 -3.6zM436.8 203.7h3.8l-1.9 -3.6zM442.1 202.3h3.8l-1.9 -3.6zM447.4 201.1h3.8l-1.9 -3.6zM452.7 200.2h3.8l-1.9 -3.6zM458 199.4h3.8l-1.9 -3.6zM463.3 198.7h3.8l-1.9 -3.6zM468.6 198.2h3.8l-1.9 -3.6zM473.9 197.7h3.8l-1.9 -3.6zM479.2 197.3h3.8l-1.9 -3.6zM484.5 197h3.8l-1.9 -3.6zM489.8 196.7h3.8l-1.9 -3.6zM495.1 196.5h3.8l-1.9 -3.6zM354.1 251.8h3.8l-1.9 -3.6zM359.6 251.8h3.8l-1.9 -3.6zM365.1 251.8h3.8l-1.9 -3.6zM370.6 251.8h3.8l-1.9 -3.6zM376.1 251.8h3.8l-1.9 -3.6zM381.6 251.8h3.8l-1.9 -3.6zM387.1 251.8h3.8l-1.9 -3.6zM392.6 251.8h3.8l-1.9 -3.6zM398.1 251.8h3.8l-1.9 -3.6zM403.6 251.8h3.8l-1.9 -3.6zM409.1 251.8h3.8l-1.9 -3.6zM414.6 251.8h3.8l-1.9 -3.6zM420.1 251.8h3.8l-1.9 -3.6zM425.6 251.8h3.8l-1.9 -3.6zM431.1 251.7h3.8l-1.9 -3.6zM436.6 251.7h3.8l-1.9 -3.6zM442.1 251.6h3.8l-1.9 -3.6zM447.6 251.4h3.8l-1.9 -3.6zM453.1 251h3.8l-1.9 -3.6zM458.6 250.3h3.8l-1.9 -3.6zM464.1 248.9h3.8l-1.9 -3.6zM469.6 246.1h3.8l-1.9 -3.6zM475.1 241.6h3.8l-1.9 -3.6zM480.6 235.7h3.8l-1.9 -3.6zM486.1 229.2h3.8l-1.9 -3.6zM491.6 222.6h3.8l-1.9 -3.6zM375.9 262.3h3.8l-1.9 -3.6zM381.2 262.2h3.8l-1.9 -3.6zM386.4 262.1h3.8l-1.9 -3.6zM391.8 262.1h3.8l-1.9 -3.6zM397.1 262h3.8l-1.9 -3.6zM402.4 261.8h3.8l-1.9 -3.6zM407.7 261.7h3.8l-1.9 -3.6zM412.9 261.4h3.8l-1.9 -3.6zM418.2 261.1h3.8l-1.9 -3.6zM423.6 260.6h3.8l-1.9 -3.6zM428.9 260h3.8l-1.9 -3.6zM434.1 259.1h3.8l-1.9 -3.6zM439.4 257.8h3.8l-1.9 -3.6zM444.8 255.9h3.8l-1.9 -3.6zM450.1 253.4h3.8l-1.9 -3.6zM455.4 250.1h3.8l-1.9 -3.6zM460.6 245.9h3.8l-1.9 -3.6zM465.9 240.9h3.8l-1.9 -3.6zM471.2 235.3h3.8l-1.9 -3.6zM476.6 229.3h3.8l-1.9 -3.6zM481.9 223.1h3.8l-1.9 -3.6zM487.1 216.8h3.8l-1.9 -3.6zM492.4 210.4h3.8l-1.9 -3.6zM497.8 204.1h3.8l-1.9 -3.6zM503.1 197.7h3.8l-1.9 -3.6zM375.9 265.3h3.8l-1.9 -3.6zM381.2 265.2h3.8l-1.9 -3.6zM386.4 265.1h3.8l-1.9 -3.6zM391.8 265.1h3.8l-1.9 -3.6zM397.1 265h3.8l-1.9 -3.6zM402.4 264.8h3.8l-1.9 -3.6zM407.7 264.7h3.8l-1.9 -3.6zM412.9 264.4h3.8l-1.9 -3.6zM418.2 264.1h3.8l-1.9 -3.6zM423.6 263.6h3.8l-1.9 -3.6zM428.9 263h3.8l-1.9 -3.6zM434.1 262.1h3.8l-1.9 -3.6zM439.4 260.8h3.8l-1.9 -3.6zM444.8 258.9h3.8l-1.9 -3.6zM450.1 256.4h3.8l-1.9 -3.6zM455.4 253.1h3.8l-1.9 -3.6zM460.6 248.9h3.8l-1.9 -3.6zM465.9 243.9h3.8l-1.9 -3.6zM471.2 238.3h3.8l-1.9 -3.6zM476.6 232.3h3.8l-1.9 -3.6zM481.9 226.1h3.8l-1.9 -3.6zM487.1 219.8h3.8l-1.9 -3.6zM492.4 213.4h3.8l-1.9 -3.6zM497.8 207.1h3.8l-1.9 -3.6zM503.1 200.7h3.8l-1.9 -3.6zM354.1 245.7h3.8l-1.9 -3.6zM360.1 245.7h3.8l-1.9 -3.6zM366.1 245.7h3.8l-1.9 -3.6zM372.1 245.7h3.8l-1.9 -3.6zM378.1 245.7h3.8l-1.9 -3.6zM384.1 245.7h3.8l-1.9 -3.6zM390.1 245.7h3.8l-1.9 -3.6zM396.1 245.7h3.8l-1.9 -3.6zM402.1 245.7h3.8l-1.9 -3.6zM408.1 245.7h3.8l-1.9 -3.6zM414.1 245.7h3.8l-1.9 -3.6zM420.1 245.7h3.8l-1.9 -3.6zM426.1 245.7h3.8l-1.9 -3.6zM432.1 245.7h3.8l-1.9 -3.6zM438.1 245.7h3.8l-1.9 -3.6zM357.1 243.4h3.8l-1.9 -3.6zM363.1 243.4h3.8l-1.9 -3.6zM369.1 243.4h3.8l-1.9 -3.6zM375.1 243.4h3.8l-1.9 -3.6zM381.1 243.4h3.8l-1.9 -3.6zM387.1 243.4h3.8l-1.9 -3.6zM393.1 243.4h3.8l-1.9 -3.6zM399.1 243.4h3.8l-1.9 -3.6zM405.1 243.4h3.8l-1.9 -3.6zM411.1 243.4h3.8l-1.9 -3.6zM417.1 243.4h3.8l-1.9 -3.6zM423.1 243.4h3.8l-1.9 -3.6zM429.1 243.4h3.8l-1.9 -3.6zM435.1 243.4h3.8l-1.9 -3.6zM360.1 247.6h3.8l-1.9 -3.6zM366.1 247.6h3.8l-1.9 -3.6zM372.1 247.6h3.8l-1.9 -3.6zM378.1 247.6h3.8l-1.9 -3.6zM384.1 247.6h3.8l-1.9 -3.6zM390.1 247.6h3.8l-1.9 -3.6zM396.1 247.6h3.8l-1.9 -3.6zM402.1 247.6h3.8l-1.9 -3.6zM408.1 247.6h3.8l-1.9 -3.6zM414.1 247.6h3.8l-1.9 -3.6zM420.1 247.6h3.8l-1.9 -3.6zM426.1 247.6h3.8l-1.9 -3.6zM432.1 247.6h3.8l-1.9 -3.6zM438.1 247.6h3.8l-1.9 -3.6zM436.1 208.6h3.8l-1.9 -3.6zM441.1 208.6h3.8l-1.9 -3.6zM446.1 208.6h3.8l-1.9 -3.6zM451.1 208.6h3.8l-1.9 -3.6zM456.1 208.6h3.8l-1.9 -3.6zM461.1 208.6h3.8l-1.9 -3.6zM466.1 208.6h3.8l-1.9 -3.6zM471.1 208.6h3.8l-1.9 -3.6zM476.1 208.6h3.8l-1.9 -3.6zM481.1 208.6h3.8l-1.9 -3.6zM486.1 208.6h3.8l-1.9 -3.6zM491.1 208.6h3.8l-1.9 -3.6zM496.1 208.6h3.8l-1.9 -3.6zM438.1 203.4h3.8l-1.9 -3.6zM443.1 203.4h3.8l-1.9 -3.6zM448.1 203.4h3.8l-1.9 -3.6zM453.1 203.4h3.8l-1.9 -3.6zM458.1 203.4h3.8l-1.9 -3.6zM463.1 203.4h3.8l-1.9 -3.6zM468.1 203.4h3.8l-1.9 -3.6zM473.1 203.4h3.8l-1.9 -3.6zM478.1 203.4h3.8l-1.9 -3.6zM483.1 203.4h3.8l-1.9 -3.6zM488.1 203.4h3.8l-1.9 -3.6zM493.1 203.4h3.8l-1.9 -3.6zM498.1 203.4h3.8l-1.9 -3.6zM505.4 202.1h3.8l-1.9 -3.6zM505.4 206.4h3.8l-1.9 -3.6zM505.4 210.7h3.8l-1.9 -3.6zM512 202.1h3.8l-1.9 -3.6zM512 206.4h3.8l-1.9 -3.6zM512 210.7h3.8l-1.9 -3.6z" fill="#000"/>
</g>
<g clip-path="url(#cp21)">
<path d="M433.9 381L435.2 379.7L436.5 378.5L437.9 377.2L439.2 376L440.5 374.7L441.9 373.5L443.2 372.3L444.5 371.2L445.9 370L447.2 369L448.5 367.9L449.9 366.9L451.2 366L452.5 365.1L453.9 364.3L455.2 363.5L456.5 362.8L457.9 362.1L459.2 361.5L460.5 360.9L461.9 360.3L463.2 359.8L464.5 359.4L465.9 358.9L467.2 358.5L468.5 358.2L469.9 357.8L471.2 357.5L472.5 357.2L473.9 357L475.2 356.7L476.5 356.5L477.9 356.3L479.2 356.1L480.5 355.9L481.9 355.8L483.2 355.6L484.5 355.5L485.9 355.3L487.2 355.2L488.6 355.1L489.9 355L491.2 354.9L492.6 354.8L493.9 354.7L495.2 354.6L496.6 354.5L497.9 354.5L499.2 354.4L500.6 354.3L501.9 354.3L503.2 354.2L504.6 354.2L505.9 354.1L507.2 354.1L508.6 354L509.9 354L511.2 353.9L512.6 353.9L513.9 353.9M353.5 390L356.2 386.5L358.8 383.1L361.5 379.7L364.2 376.5L366.9 373.5L369.5 370.7L372.2 368.2L374.9 366L377.6 364L380.2 362.3L382.9 360.9L385.6 359.6L388.3 358.5L390.9 357.6L393.6 356.9L396.3 356.2L398.9 355.6L401.6 355.2L404.3 354.8L407 354.4L409.6 354.1L412.3 353.8L415 353.6L417.7 353.4L420.3 353.2L423 353L425.7 352.9L428.4 352.7L431 352.6L433.7 352.5L436.4 352.4L439 352.4L441.7 352.3L444.4 352.2L447.1 352.2L449.7 352.1L452.4 352L455.1 352L457.8 352L460.4 351.9L463.1 351.9L465.8 351.8L468.5 351.8L471.1 351.8L473.8 351.8L476.5 351.7L479.1 351.7L481.8 351.7L484.5 351.7L487.2 351.7L489.8 351.6L492.5 351.6L495.2 351.6L497.9 351.6L500.5 351.6L503.2 351.6L505.9 351.6L508.6 351.5L511.2 351.5L513.9 351.5M513.9 351.3L511.2 356.4L508.6 361.4L505.9 366.2L503.2 370.8L500.5 374.9L497.9 378.7L495.2 381.9L492.5 384.7L489.8 387L487.2 389L484.5 390.6L481.8 392L479.1 393.1L476.5 394L473.8 394.8L471.1 395.4L468.5 396L465.8 396.5L463.1 396.9L460.4 397.2L457.8 397.5L455.1 397.8L452.4 398L449.7 398.2L447.1 398.3L444.4 398.5L441.7 398.6L439 398.7L436.4 398.8L433.7 398.9L431 399L428.4 399.1L425.7 399.1L423 399.2L420.3 399.3L417.7 399.3L415 399.3L412.3 399.4L409.6 399.4L407 399.5L404.3 399.5L401.6 399.5L398.9 399.6L396.3 399.6L393.6 399.6L390.9 399.6L388.3 399.6L385.6 399.7L382.9 399.7L380.2 399.7L377.6 399.7L374.9 399.7L372.2 399.7L369.5 399.7L366.9 399.8L364.2 399.8L361.5 399.8L358.8 399.8L356.2 399.8L353.5 399.8M353.5 400L356.1 395.8L358.8 391.6L361.4 387.6L364 383.7L366.6 380.1L369.2 376.8L371.9 373.8L374.5 371.2L377.1 368.9L379.8 367L382.4 365.3L385 363.9L387.6 362.7L390.2 361.6L392.9 360.8L395.5 360L398.1 359.4L400.8 358.9L403.4 358.4L406 358L408.6 357.7L411.2 357.4L413.9 357.1L416.5 356.9L419.1 356.7L421.8 356.5L424.4 356.3L427 356.2L429.6 356.1L432.2 355.9L434.9 355.8L437.5 355.8L440.1 355.7L442.8 355.6L445.4 355.5L448 355.5L450.6 355.4L453.2 355.4L455.9 355.3L458.5 355.3L461.1 355.2L463.8 355.2L466.4 355.2L469 355.1L471.6 355.1L474.2 355.1L476.9 355.1L479.5 355L482.1 355L484.8 355L487.4 355L490 355L492.6 354.9L495.2 354.9L497.9 354.9L500.5 354.9L503.1 354.9L505.8 354.9L508.4 354.9L511 354.8M511 354.6L508.4 358.2L505.8 361.9L503.2 365.5L500.6 368.9L498 372.3L495.4 375.4L492.7 378.4L490.1 381.1L487.5 383.6L484.9 385.8L482.3 387.8L479.7 389.6L477.1 391.1L474.5 392.5L471.9 393.7L469.3 394.8L466.7 395.7L464.1 396.5L461.4 397.2L458.8 397.8L456.2 398.4L453.6 398.8L451 399.3L448.4 399.7L445.8 400L443.2 400.3L440.6 400.6L438 400.8L435.4 401L432.8 401.2L430.1 401.4L427.5 401.5L424.9 401.7L422.3 401.8L419.7 401.9L417.1 402L414.5 402.1L411.9 402.2L409.3 402.3L406.7 402.4L404.1 402.4L401.4 402.5L398.8 402.6L396.2 402.6L393.6 402.7L391 402.7L388.4 402.8L385.8 402.8L383.2 402.9L380.6 402.9L378 402.9L375.4 403L372.8 403L370.1 403L367.5 403L364.9 403.1L362.3 403.1L359.7 403.1L357.1 403.1L354.5 403.1M354.5 403.6L357.1 400.3L359.6 397L362.2 393.7L364.7 390.5L367.3 387.5L369.9 384.6L372.4 381.8L375 379.3L377.5 377L380.1 374.9L382.6 373.1L385.2 371.4L387.8 369.9L390.3 368.6L392.9 367.5L395.4 366.5L398 365.6L400.6 364.8L403.1 364.2L405.7 363.6L408.2 363L410.8 362.6L413.3 362.1L415.9 361.8L418.5 361.4L421 361.2L423.6 360.9L426.1 360.7L428.7 360.5L431.2 360.3L433.8 360.1L436.4 359.9L438.9 359.8L441.5 359.7L444 359.6L446.6 359.4L449.2 359.4L451.7 359.3L454.3 359.2L456.8 359.1L459.4 359L461.9 359L464.5 358.9L467.1 358.9L469.6 358.8L472.2 358.8L474.7 358.7L477.3 358.7L479.9 358.6L482.4 358.6L485 358.6L487.5 358.5L490.1 358.5L492.6 358.5L495.2 358.5L497.8 358.4L500.3 358.4L502.9 358.4L505.4 358.4L508 358.4M508 357.9L505.5 360.7L502.9 363.5L500.4 366.2L497.9 368.9L495.3 371.6L492.8 374.2L490.3 376.7L487.7 379L485.2 381.3L482.7 383.4L480.1 385.4L477.6 387.2L475.1 388.9L472.5 390.4L470 391.8L467.5 393.1L464.9 394.2L462.4 395.3L459.9 396.2L457.3 397.1L454.8 397.8L452.3 398.5L449.7 399.2L447.2 399.7L444.7 400.2L442.1 400.7L439.6 401.1L437.1 401.5L434.5 401.9L432 402.2L429.5 402.5L426.9 402.7L424.4 403L421.9 403.2L419.3 403.4L416.8 403.6L414.3 403.7L411.7 403.9L409.2 404L406.7 404.2L404.1 404.3L401.6 404.4L399.1 404.5L396.5 404.6L394 404.7L391.5 404.8L388.9 404.9L386.4 404.9L383.9 405L381.3 405.1L378.8 405.1L376.3 405.2L373.7 405.3L371.2 405.3L368.7 405.3L366.1 405.4L363.6 405.4L361.1 405.5L358.5 405.5L356 405.5M356 406.4L358.5 403.7L361 400.9L363.4 398.3L365.9 395.6L368.4 393L370.9 390.5L373.4 388.1L375.9 385.9L378.4 383.8L380.8 381.8L383.3 380L385.8 378.3L388.3 376.8L390.8 375.4L393.2 374.2L395.7 373.1L398.2 372.1L400.7 371.2L403.2 370.4L405.7 369.7L408.1 369L410.6 368.4L413.1 367.9L415.6 367.5L418.1 367L420.6 366.7L423.1 366.3L425.5 366L428 365.7L430.5 365.5L433 365.3L435.5 365.1L437.9 364.9L440.4 364.7L442.9 364.5L445.4 364.4L447.9 364.3L450.4 364.1L452.9 364L455.3 363.9L457.8 363.8L460.3 363.7L462.8 363.6L465.3 363.6L467.8 363.5L470.2 363.4L472.7 363.4L475.2 363.3L477.7 363.3L480.2 363.2L482.6 363.2L485.1 363.1L487.6 363.1L490.1 363L492.6 363L495.1 363L497.6 362.9L500 362.9L502.5 362.9L505 362.9M505 362.2L502.8 364.2L500.5 366.2L498.2 368.3L496 370.3L493.8 372.2L491.5 374.2L489.2 376.1L487 378L484.8 379.8L482.5 381.6L480.2 383.3L478 384.9L475.8 386.5L473.5 388L471.2 389.4L469 390.7L466.8 392L464.5 393.1L462.2 394.2L460 395.3L457.8 396.2L455.5 397.1L453.2 398L451 398.7L448.8 399.4L446.5 400.1L444.2 400.7L442 401.3L439.8 401.8L437.5 402.3L435.2 402.8L433 403.2L430.8 403.6L428.5 404L426.2 404.3L424 404.6L421.8 404.9L419.5 405.2L417.2 405.4L415 405.7L412.8 405.9L410.5 406.1L408.2 406.3L406 406.5L403.8 406.6L401.5 406.8L399.2 407L397 407.1L394.8 407.2L392.5 407.4L390.2 407.5L388 407.6L385.8 407.7L383.5 407.8L381.2 407.9L379 408L376.8 408L374.5 408.1L372.2 408.2L370 408.3M370 410L372.3 406.8L374.6 403.5L376.9 400.3L379.3 397.2L381.6 394.1L383.9 391.1L386.2 388.2L388.5 385.5L390.9 382.9L393.2 380.5L395.5 378.3L397.8 376.2L400.1 374.3L402.4 372.6L404.8 371L407.1 369.6L409.4 368.3L411.7 367.1L414 366.1L416.3 365.1L418.6 364.3L421 363.5L423.3 362.8L425.6 362.2L427.9 361.6L430.2 361.1L432.6 360.7L434.9 360.3L437.2 359.9L439.5 359.5L441.8 359.2L444.1 358.9L446.4 358.7L448.8 358.4L451.1 358.2L453.4 358L455.7 357.8L458 357.7L460.4 357.5L462.7 357.4L465 357.2L467.3 357.1L469.6 357L471.9 356.9L474.2 356.8L476.6 356.7L478.9 356.6L481.2 356.6L483.5 356.5L485.8 356.4L488.1 356.3L490.5 356.3L492.8 356.2L495.1 356.2L497.4 356.1L499.7 356.1L502.1 356L504.4 356L506.7 355.9L509 355.9M353.5 400L353.5 390" fill="none" stroke="#ff0000" stroke-width="1.2" stroke-linejoin="round"/>
<path d="M353.2 391L353.2 400M497.5 350.2L497.5 372" fill="none" stroke="#000" stroke-width="3.0" stroke-linecap="round"/>
<path d="M435 379.9h0M438 377.1h0M441 374.3h0M444 371.6h0M447 369.1h0M450 366.8h0M453 364.8h0M456 363.1h0M459 361.6h0M462 360.3h0M465 359.2h0M468 358.3h0M471 357.6h0M474 356.9h0M477 356.4h0M480 356h0M483 355.6h0M486 355.3h0M489 355h0M492 354.8h0M495 354.6h0M353.8 390.6h0M360.4 382.1h0M367 374.6h0M373.6 368.7h0M380.2 364.6h0M386.8 361.9h0M393.4 360.2h0M400 359h0M406.6 358.3h0M413.2 357.7h0M419.8 357.4h0M426.4 357.1h0M433 356.9h0M439.6 356.7h0M446.2 356.6h0M452.8 356.5h0M459.4 356.4h0M466 356.4h0M472.6 356.3h0M479.2 356.3h0M485.8 356.3h0M492.4 356.2h0M367.3 386.3h0M373.7 378.3h0M380.1 371.6h0M386.5 367h0M392.9 364.1h0M399.3 362.4h0M405.7 361.4h0M412.1 360.7h0M418.5 360.3h0M424.9 360h0M431.3 359.8h0M437.7 359.6h0M444.1 359.5h0M450.5 359.4h0M456.9 359.3h0M463.3 359.3h0M469.7 359.2h0M476.1 359.2h0M482.5 359.2h0M488.9 359.2h0M495.3 359.1h0M363 391.1h0M368.8 383.9h0M374.6 377.6h0M380.4 372.9h0M386.2 369.6h0M392 367.4h0M397.8 365.9h0M403.6 364.9h0M409.4 364.2h0M415.2 363.7h0M421 363.4h0M426.8 363.1h0M432.6 362.9h0M438.4 362.8h0M444.2 362.6h0M450 362.5h0M455.8 362.5h0M461.6 362.4h0M467.4 362.4h0M473.2 362.3h0M479 362.3h0M484.8 362.2h0M490.6 362.2h0M496.4 362.2h0M375 389.1h0M381.2 381.6h0M387.4 375.7h0M393.6 371.7h0M399.8 369.4h0M406 367.9h0M412.2 367.1h0M418.4 366.5h0M424.6 366.1h0M430.8 365.9h0M437 365.7h0M443.2 365.5h0M449.4 365.4h0M455.6 365.4h0M461.8 365.3h0M468 365.3h0M474.2 365.2h0M480.4 365.2h0M486.6 365.2h0M492.8 365.1h0M442 400.3h0M445.8 399.5h0M449.6 398.5h0M453.4 397.3h0M457.2 395.8h0M461 394h0M464.8 391.8h0M468.6 389.1h0M472.4 385.8h0M476.2 381.9h0M480 377.4h0M483.8 372.3h0M487.6 366.8h0M491.4 360.9h0M495.2 354.9h0M375.1 404.7h0M380.4 404.6h0M385.7 404.5h0M391 404.3h0M396.3 404.2h0M401.6 404h0M406.9 403.8h0M412.2 403.5h0M417.5 403.2h0M422.8 402.8h0M428.1 402.3h0M433.4 401.7h0M438.7 400.9h0M375.1 398.6h0M380.4 391.7h0M385.7 385.3h0M391 379.6h0M396.3 374.9h0M401.6 371h0M406.9 368h0M412.2 365.7h0M417.5 363.9h0M422.8 362.5h0M428.1 361.4h0M433.4 360.6h0M438.7 359.9h0M444 359.4h0M449.3 358.9h0M454.6 358.6h0M459.9 358.3h0M465.2 358.1h0M470.5 357.9h0M475.8 357.7h0M481.1 357.6h0M486.4 357.4h0M491.7 357.3h0M497 357.2h0M442.8 403.2h0M446.6 402.3h0M450.4 401.2h0M454.2 399.9h0M458 398.3h0M461.8 396.3h0M465.6 394h0M469.4 391.1h0M473.2 387.8h0M477 383.9h0M480.8 379.4h0M484.6 374.5h0M488.4 369.1h0M492.2 363.6h0M496 357.9h0M375.1 408.1h0M380.4 408h0M385.7 407.9h0M391 407.7h0M396.3 407.6h0M401.6 407.4h0M406.9 407.1h0M412.2 406.9h0M417.5 406.5h0M422.8 406.1h0M428.1 405.6h0M433.4 404.9h0M438.7 404h0M375.1 401.9h0M380.4 394.7h0M385.7 388.2h0M391 382.6h0M396.3 378h0M401.6 374.4h0M406.9 371.7h0M412.2 369.6h0M417.5 368h0M422.8 366.8h0M428.1 365.9h0M433.4 365.2h0M438.7 364.7h0M444 364.2h0M449.3 363.9h0M454.6 363.6h0M459.9 363.3h0M465.2 363.1h0M470.5 363h0M475.8 362.8h0M481.1 362.7h0M486.4 362.6h0M491.7 362.5h0M497 362.5h0M443.6 406.1h0M447.4 405.1h0M451.2 404h0M455 402.7h0M458.8 401h0M462.6 399h0M466.4 396.7h0M470.2 393.8h0M474 390.5h0M477.8 386.7h0M481.6 382.4h0M485.4 377.7h0M489.2 372.6h0M493 367.4h0M496.8 362.1h0M375.1 411.1h0M380.4 411h0M385.7 410.9h0M391 410.7h0M396.3 410.6h0M401.6 410.4h0M406.9 410.1h0M412.2 409.8h0M417.5 409.5h0M422.8 409.1h0M428.1 408.5h0M433.4 407.9h0M438.7 407h0M375.1 404.4h0M380.4 396.6h0M385.7 389.4h0M391 382.9h0M396.3 377.3h0M401.6 372.8h0M406.9 369.1h0M412.2 366.2h0M417.5 363.9h0M422.8 362.1h0M428.1 360.7h0M433.4 359.6h0M438.7 358.7h0M444 358h0M449.3 357.5h0M454.6 357h0M459.9 356.6h0M465.2 356.3h0M470.5 356h0M475.8 355.8h0M481.1 355.6h0M486.4 355.4h0M491.7 355.3h0M497 355.1h0M440.6 395.5h0M444.4 394.9h0M448.2 394.2h0M452 393.4h0M455.8 392.3h0M459.6 391h0M463.4 389.4h0M467.2 387.4h0M471 384.9h0M474.8 381.9h0M478.6 378.2h0M482.4 374h0M486.2 369.2h0M490 364.1h0M493.8 358.6h0M380.4 398.4h0M385.7 398.3h0M391 398.2h0M396.3 398.1h0M401.6 398h0M406.9 397.8h0M412.2 397.6h0M417.5 397.4h0M422.8 397.1h0M428.1 396.8h0M433.4 396.3h0M438.7 395.7h0M380.4 398.5h0M385.7 391.6h0M391 385h0M396.3 378.9h0M401.6 373.5h0M406.9 369.1h0M412.2 365.5h0M417.5 362.7h0M422.8 360.6h0M428.1 358.9h0M433.4 357.6h0M438.7 356.7h0M444 355.9h0M449.3 355.3h0M454.6 354.8h0M459.9 354.4h0M465.2 354h0M470.5 353.8h0M475.8 353.6h0M481.1 353.4h0M486.4 353.2h0M491.7 353.1h0M497 353h0M356 403.9h0M361.5 403.9h0M367 403.9h0M372.5 403.9h0M378 403.9h0M383.5 403.9h0M389 403.8h0M394.5 403.8h0M400 403.8h0M405.5 403.8h0M411 403.7h0M416.5 403.7h0M422 403.6h0M427.5 403.5h0M433 403.4h0M438.5 403.3h0M444 403.1h0M449.5 402.8h0M455 402.4h0M460.5 401.8h0M466 400.9h0M471.5 399.4h0M477 397h0M482.5 392.8h0M488 386.4h0M493.5 377.9h0M356 399h0M360.4 399h0M364.8 399h0M369.2 399h0M373.6 399h0M378 399h0M382.4 399h0M386.8 399h0M391.2 399h0M395.6 399h0M400 399h0M404.4 399h0M408.8 399h0M413.2 399h0M417.6 399h0M422 399h0M426.4 399h0M430.8 399h0M435.2 399h0M439.6 399h0M440 358h0M444.4 358h0M448.8 358h0M453.2 358h0M457.6 358h0M462 358h0M466.4 358h0M470.8 358h0M475.2 358h0M479.6 358h0M484 358h0M488.4 358h0M492.8 358h0M497.2 358h0M440 353h0M444.4 353h0M448.8 353h0M453.2 353h0M457.6 353h0M462 353h0M466.4 353h0M470.8 353h0M475.2 353h0M479.6 353h0M484 353h0M488.4 353h0M492.8 353h0M497.2 353h0M507 354h0M507 357.5h0M507 361h0M514 354h0M514 357.5h0M514 361h0" stroke="#000" stroke-width="2.1" stroke-linecap="round"/>
</g>
<g clip-path="url(#cp10)">
<path d="M89.5 216L91 212L94.5 207.5L96.8 205.6L103.3 205.2M110.8 245.8L113 246.6L123 246.6M123 215L123 195.8M123.6 200L123.6 213.5L125 213.7L130.9 215.7L137.5 217L144.7 217.6M150 242.5L152 242.8L160 244L167 244L168.5 239.8L172 238.8L180 236.8L188 235.5M188.5 235.5L188.5 200L189.3 253.5M200 213L202 210.6L205 208.9L210 207.8L219.5 208.9M224 236.5L225 237.8L228.3 241L232.7 242.3L240 242.9L245.5 243.5" fill="none" stroke="#000" stroke-width="3.5" stroke-linejoin="round" stroke-linecap="round"/>
<path d="M81.3 244.4h3.8l-1.9 -3.6zM81.9 240.9h3.8l-1.9 -3.6zM82.5 237.3h3.8l-1.9 -3.6zM83.1 233.8h3.8l-1.9 -3.6zM83.8 230.3h3.8l-1.9 -3.6zM84.6 226.8h3.8l-1.9 -3.6zM85.6 223.3h3.8l-1.9 -3.6zM86.9 219.9h3.8l-1.9 -3.6zM101.7 209.4h3.8l-1.9 -3.6zM102 212.8h3.8l-1.9 -3.6zM102.4 216.2h3.8l-1.9 -3.6zM102.9 219.6h3.8l-1.9 -3.6zM103.4 222.9h3.8l-1.9 -3.6zM103.9 226.3h3.8l-1.9 -3.6zM104.5 229.6h3.8l-1.9 -3.6zM105 233h3.8l-1.9 -3.6zM105.8 236.3h3.8l-1.9 -3.6zM106.6 239.6h3.8l-1.9 -3.6zM107.6 242.9h3.8l-1.9 -3.6zM108.8 246.1h3.8l-1.9 -3.6zM121.1 248h3.8l-1.9 -3.6zM121.1 244h3.8l-1.9 -3.6zM121.1 240h3.8l-1.9 -3.6zM121.1 236h3.8l-1.9 -3.6zM121.1 232h3.8l-1.9 -3.6zM121.1 228h3.8l-1.9 -3.6zM121.1 224h3.8l-1.9 -3.6zM121.1 220h3.8l-1.9 -3.6zM143.3 219.4h3.8l-1.9 -3.6zM143.9 222.7h3.8l-1.9 -3.6zM144.4 226h3.8l-1.9 -3.6zM144.8 229.2h3.8l-1.9 -3.6zM145.2 232.5h3.8l-1.9 -3.6zM145.7 235.8h3.8l-1.9 -3.6zM146.3 239h3.8l-1.9 -3.6zM147.5 242.1h3.8l-1.9 -3.6zM187.7 254.9h3.8l-1.9 -3.6zM187.9 250.7h3.8l-1.9 -3.6zM188.1 246.5h3.8l-1.9 -3.6zM188.2 242.4h3.8l-1.9 -3.6zM188.4 238.2h3.8l-1.9 -3.6zM188.6 234h3.8l-1.9 -3.6zM188.8 229.8h3.8l-1.9 -3.6zM188.9 225.6h3.8l-1.9 -3.6zM189 221.4h3.8l-1.9 -3.6zM189.2 217.2h3.8l-1.9 -3.6zM189.3 213h3.8l-1.9 -3.6zM189.4 208.8h3.8l-1.9 -3.6zM189.5 204.6h3.8l-1.9 -3.6zM189.6 202.5h3.8l-1.9 -3.6zM189.8 206.7h3.8l-1.9 -3.6zM190 210.9h3.8l-1.9 -3.6zM190.2 215.1h3.8l-1.9 -3.6zM190.3 219.3h3.8l-1.9 -3.6zM190.5 223.5h3.8l-1.9 -3.6zM190.7 227.7h3.8l-1.9 -3.6zM190.9 231.9h3.8l-1.9 -3.6zM191.2 236.1h3.8l-1.9 -3.6zM191.5 240.3h3.8l-1.9 -3.6zM191.8 244.4h3.8l-1.9 -3.6zM192.1 248.6h3.8l-1.9 -3.6zM192.4 252.8h3.8l-1.9 -3.6zM191.9 249.4h3.8l-1.9 -3.6zM192.3 246.1h3.8l-1.9 -3.6zM192.6 242.7h3.8l-1.9 -3.6zM193 239.3h3.8l-1.9 -3.6zM193.5 235.9h3.8l-1.9 -3.6zM193.9 232.6h3.8l-1.9 -3.6zM194.5 229.2h3.8l-1.9 -3.6zM195.1 225.9h3.8l-1.9 -3.6zM195.8 222.5h3.8l-1.9 -3.6zM196.6 219.2h3.8l-1.9 -3.6zM197.6 216h3.8l-1.9 -3.6zM217.9 213.4h3.8l-1.9 -3.6zM218.3 216.6h3.8l-1.9 -3.6zM218.6 219.8h3.8l-1.9 -3.6zM218.9 223h3.8l-1.9 -3.6zM219.4 226.2h3.8l-1.9 -3.6zM219.9 229.3h3.8l-1.9 -3.6zM220.6 232.4h3.8l-1.9 -3.6zM221.4 235.5h3.8l-1.9 -3.6z" fill="#000"/>
<path d="M75.8 211L76.1 258.4L76.3 200.2L76.6 265L76.9 194.3L77.1 267.2L77.4 190.5L77.7 268.6L78 189.5L78.2 266.4L78.5 189.6L78.8 264.2L79 190.8L79.3 259L79.6 191.9L79.8 253.6L80.1 193.5L80.4 248.4L80.6 195.1L80.9 244.3L81.2 196.7L81.5 240.1L81.7 200.8L82 235.6L82.3 205.7L82.5 231" fill="none" stroke="#0000b8" stroke-width="1.1" stroke-linejoin="round"/>
<path d="M81.5 215L83.3 258.3L85 240L86.7 227L88.9 213.8L91.7 204.2L94.6 200.9L98 200.2L102 200L103.3 199.5L104.6 213.7L107.9 232.1L110.5 245.3L113.8 254.5L117.1 256.4L121.7 255.1L123 255L123 190.7L124.3 200.5L127 204.5L130.9 207.1L137.5 209.7L144.7 211L145.3 211.2L146.5 219.7L148 232.9L150 243.4L152.5 250.7L155 252.6L160 253.3L163.5 255.3L165 254L167 256L168 252L172 248.7L180 244L188 240.8L189.5 240L189.9 187.5L190.1 263.9L192.4 193.1L194.5 261L196.9 230L199.6 215L202.6 203.8L207.1 199.5L212.7 198L219.5 199.3L221 215L223 230L224.5 239.1L228.3 248L232.7 253.1L235.9 256.3L238.5 255.6L241 253.3L244.8 253.7" fill="none" stroke="#0000ff" stroke-width="1.1" stroke-linejoin="round"/>
<path d="M74.1 200.4h3.8l-1.9 -3.6zM74.1 203.4h3.8l-1.9 -3.6zM74.1 206.4h3.8l-1.9 -3.6zM74.1 209.4h3.8l-1.9 -3.6zM74.1 212.4h3.8l-1.9 -3.6zM74.1 215.4h3.8l-1.9 -3.6zM74.1 218.4h3.8l-1.9 -3.6zM74.1 221.4h3.8l-1.9 -3.6zM74.1 224.4h3.8l-1.9 -3.6zM74.1 227.4h3.8l-1.9 -3.6zM74.1 230.4h3.8l-1.9 -3.6zM74.1 233.4h3.8l-1.9 -3.6zM74.1 236.4h3.8l-1.9 -3.6zM74.1 239.4h3.8l-1.9 -3.6zM74.1 242.4h3.8l-1.9 -3.6zM74.1 245.4h3.8l-1.9 -3.6zM74.1 248.4h3.8l-1.9 -3.6zM74.1 251.4h3.8l-1.9 -3.6zM74.1 254.4h3.8l-1.9 -3.6zM74.1 257.4h3.8l-1.9 -3.6zM74.1 260.4h3.8l-1.9 -3.6zM74.1 263.4h3.8l-1.9 -3.6zM74.1 266.4h3.8l-1.9 -3.6zM79.9 202.4h3.8l-1.9 -3.6zM79.9 207.4h3.8l-1.9 -3.6zM79.9 212.4h3.8l-1.9 -3.6zM79.9 217.4h3.8l-1.9 -3.6zM79.9 222.4h3.8l-1.9 -3.6zM79.9 227.4h3.8l-1.9 -3.6zM79.9 232.4h3.8l-1.9 -3.6zM79.9 237.4h3.8l-1.9 -3.6zM77.3 251.4h3.8l-1.9 -3.6zM77.3 256.4h3.8l-1.9 -3.6zM77.3 261.4h3.8l-1.9 -3.6zM76.3 192.4h3.8l-1.9 -3.6zM75.7 268.4h3.8l-1.9 -3.6zM81.1 252.4h3.8l-1.9 -3.6zM81.3 256.9h3.8l-1.9 -3.6zM78.6 244.4h3.8l-1.9 -3.6zM78.7 196.4h3.8l-1.9 -3.6zM186.7 203.4h3.8l-1.9 -3.6zM186.7 208.4h3.8l-1.9 -3.6zM186.7 213.4h3.8l-1.9 -3.6zM186.7 218.4h3.8l-1.9 -3.6zM186.7 223.4h3.8l-1.9 -3.6zM186.7 228.4h3.8l-1.9 -3.6zM186.7 233.4h3.8l-1.9 -3.6zM186.7 241.4h3.8l-1.9 -3.6zM186.7 246.4h3.8l-1.9 -3.6zM186.7 251.4h3.8l-1.9 -3.6zM189.7 206.4h3.8l-1.9 -3.6zM189.7 211.4h3.8l-1.9 -3.6zM189.7 216.4h3.8l-1.9 -3.6zM189.7 221.4h3.8l-1.9 -3.6zM189.7 226.4h3.8l-1.9 -3.6zM189.7 231.4h3.8l-1.9 -3.6zM189.7 236.4h3.8l-1.9 -3.6zM189.7 241.4h3.8l-1.9 -3.6zM192.6 244.4h3.8l-1.9 -3.6zM192.6 249.4h3.8l-1.9 -3.6zM192.6 253.4h3.8l-1.9 -3.6z" fill="#000"/>
</g>
<g clip-path="url(#cp20)">
<g transform="translate(0.9,0.0)">
<path d="M90.5 365.5L93 363L97 361.3L102 361.3M108.5 390.5L109.5 392L112 397L117 400.3L122.2 401.4M122.6 368L122.6 353M123.4 356L123.4 367L125 369.3L131 371.3L138 371.3L144 370.7M149 394L150 396L155 398L160 399L167 400.3L170 395.7L175 394L180 392.4L188 391.7M188.6 391.5L188.6 354L189.2 408M198.5 369L201 366L205 364.5L212 363.5L219 363M225 392.5L226 394L230 396.5L235 397.5L244.5 398" fill="none" stroke="#000" stroke-width="2.4" stroke-linejoin="round" stroke-linecap="round"/>
<path d="M82.8 407h0M83.1 403.2h0M83.4 399.4h0M83.7 395.6h0M84 391.9h0M84.4 388.1h0M84.9 384.3h0M85.5 380.5h0M86.1 376.8h0M87.1 373.1h0M88.4 369.6h0M90.1 366.2h0M103 365h0M103.5 368.5h0M104 371.9h0M104.5 375.4h0M105 378.9h0M105.8 382.3h0M106.6 385.7h0M107.7 389h0M122.4 401.4h0M122.4 397.2h0M122.4 393h0M122.4 388.8h0M122.4 384.6h0M122.4 380.4h0M122.4 376.2h0M122.4 372h0M144.6 371.5h0M145.3 374.7h0M145.7 378h0M146.2 381.3h0M146.8 384.5h0M147.4 387.7h0M148.2 390.9h0M189.5 408h0M189.7 403.5h0M189.8 399h0M190 394.5h0M190.1 390h0M190.3 385.5h0M190.5 381h0M190.6 376.5h0M190.8 372h0M191 367.5h0M191.2 363h0M191.4 358.5h0M191.6 362h0M191.8 366.5h0M192 370.9h0M192.3 375.4h0M192.5 379.9h0M192.7 384.4h0M192.9 388.9h0M193.1 393.4h0M193.4 397.9h0M193.6 402.4h0M193.6 403h0M194 399.5h0M194.3 396h0M194.7 392.6h0M195.1 389.1h0M195.5 385.6h0M196 382.1h0M196.4 378.7h0M197.1 375.2h0M197.7 371.8h0M219.5 366h0M219.8 369.3h0M220.1 372.6h0M220.9 375.8h0M221.6 379h0M222.1 382.3h0M222.6 385.5h0M223.5 388.7h0" stroke="#000" stroke-width="2.4" stroke-linecap="round"/>
</g>
<path d="M75.9 352L76.2 411.2L76.6 350.9L76.9 414.1L77.2 350.2L77.6 414.4L77.9 350.3L78.2 413.3L78.6 350.9L78.9 412.2L79.2 351.4L79.6 410.9L79.9 353.7L80.2 409.6L80.6 356L80.9 407.7L81.2 358.4L81.6 403.2" fill="none" stroke="#c00000" stroke-width="1.1" stroke-linejoin="round"/>
<path d="M81.2 370L82.7 407.6L83.8 387L85.7 375.5L88.3 367.3L91.5 362.8L96.5 360.9L102.5 361.6L104.1 373.8L105.8 385.1L109.2 392.4L112.6 398L117.1 400.3L122.2 401.4L122.4 351.3L123.5 359L125 364.2L128 368.7L131 370L137 371.3L144 371.3L145 372.6L146 379.2L147 388.4L148.5 394.3L152 397L160 399L165 400.3L167 399L170 395.7L175 393L182 391L188 391L188.9 351.2L189.2 410L191.6 356.4L193.9 405.8L196 384.7L197.5 372.9L199 368.3L201.5 365L205 363.4L212 362.6L219.5 362.4L220.5 366.3L221.5 375.5L223 386L225 394L228 397.9L232 399.2L244 399.5" fill="none" stroke="#ff0000" stroke-width="1.2" stroke-linejoin="round"/>
<path d="M76 353h0M76 356h0M76 359h0M76 362h0M76 365h0M76 368h0M76 371h0M76 374h0M76 377h0M76 380h0M76 383h0M76 386h0M76 389h0M76 392h0M76 395h0M76 398h0M76 401h0M76 404h0M76 407h0M76 410h0M80.8 358h0M80.8 362h0M80.8 366h0M80.8 370h0M80.8 374h0M80.8 378h0M80.8 382h0M80.8 386h0M80.8 390h0M80.8 394h0M80.8 398h0M80.8 402h0M80.8 406h0M77.6 350.8h0M77.6 413.5h0M82.5 403.5h0" stroke="#000" stroke-width="2.4" stroke-linecap="round"/>
</g>
<rect x="70.9" y="13.5" width="190.80" height="115" fill="none" stroke="#000" stroke-width="0.9"/>
<line x1="66.9" y1="128.50" x2="70.9" y2="128.50" stroke="#000" stroke-width="0.9"/>
<text transform="translate(62.30,134.10) scale(1,1.05)" text-anchor="end" font-size="11.7">−800</text>
<line x1="66.9" y1="99.75" x2="70.9" y2="99.75" stroke="#000" stroke-width="0.9"/>
<text transform="translate(62.30,105.35) scale(1,1.05)" text-anchor="end" font-size="11.7">−400</text>
<line x1="66.9" y1="71.00" x2="70.9" y2="71.00" stroke="#000" stroke-width="0.9"/>
<text transform="translate(62.30,76.60) scale(1,1.05)" text-anchor="end" font-size="11.7">0</text>
<line x1="66.9" y1="42.25" x2="70.9" y2="42.25" stroke="#000" stroke-width="0.9"/>
<text transform="translate(62.30,47.85) scale(1,1.05)" text-anchor="end" font-size="11.7">400</text>
<line x1="66.9" y1="13.50" x2="70.9" y2="13.50" stroke="#000" stroke-width="0.9"/>
<text transform="translate(62.30,19.10) scale(1,1.05)" text-anchor="end" font-size="11.7">800</text>
<line x1="76.90" y1="128.5" x2="76.90" y2="132.5" stroke="#000" stroke-width="0.9"/>
<text transform="translate(76.90,146.90) scale(1,1.05)" text-anchor="middle" font-size="11.7">0</text>
<line x1="138.53" y1="128.5" x2="138.53" y2="132.5" stroke="#000" stroke-width="0.9"/>
<text transform="translate(138.53,146.90) scale(1,1.05)" text-anchor="middle" font-size="11.7">5000</text>
<line x1="200.17" y1="128.5" x2="200.17" y2="132.5" stroke="#000" stroke-width="0.9"/>
<text transform="translate(200.17,146.90) scale(1,1.05)" text-anchor="middle" font-size="11.7">10,000</text>
<line x1="261.81" y1="128.5" x2="261.81" y2="132.5" stroke="#000" stroke-width="0.9"/>
<text transform="translate(261.81,146.90) scale(1,1.05)" text-anchor="middle" font-size="11.7">15,000</text>
<text transform="translate(166.70,163.50) scale(1,1.05)" text-anchor="middle" font-size="11.9">Time in s</text>
<text transform="translate(22.40,71.30) rotate(-90)" text-anchor="middle" font-size="12.0">Stress in MPa</text>
<text transform="translate(237.15,27.80) scale(1,1.05)" font-size="9.5">HT0</text>
<rect x="338.4" y="13.5" width="190.90" height="115" fill="none" stroke="#000" stroke-width="0.9"/>
<line x1="334.4" y1="128.50" x2="338.4" y2="128.50" stroke="#000" stroke-width="0.9"/>
<text transform="translate(329.80,134.10) scale(1,1.05)" text-anchor="end" font-size="11.7">−800</text>
<line x1="334.4" y1="99.75" x2="338.4" y2="99.75" stroke="#000" stroke-width="0.9"/>
<text transform="translate(329.80,105.35) scale(1,1.05)" text-anchor="end" font-size="11.7">−400</text>
<line x1="334.4" y1="71.00" x2="338.4" y2="71.00" stroke="#000" stroke-width="0.9"/>
<text transform="translate(329.80,76.60) scale(1,1.05)" text-anchor="end" font-size="11.7">0</text>
<line x1="334.4" y1="42.25" x2="338.4" y2="42.25" stroke="#000" stroke-width="0.9"/>
<text transform="translate(329.80,47.85) scale(1,1.05)" text-anchor="end" font-size="11.7">400</text>
<line x1="334.4" y1="13.50" x2="338.4" y2="13.50" stroke="#000" stroke-width="0.9"/>
<text transform="translate(329.80,19.10) scale(1,1.05)" text-anchor="end" font-size="11.7">800</text>
<line x1="338.40" y1="128.5" x2="338.40" y2="132.5" stroke="#000" stroke-width="0.9"/>
<text transform="translate(338.40,146.90) scale(1,1.05)" text-anchor="middle" font-size="11.7">−0.012</text>
<line x1="386.13" y1="128.5" x2="386.13" y2="132.5" stroke="#000" stroke-width="0.9"/>
<text transform="translate(386.13,146.90) scale(1,1.05)" text-anchor="middle" font-size="11.7">−0.006</text>
<line x1="433.85" y1="128.5" x2="433.85" y2="132.5" stroke="#000" stroke-width="0.9"/>
<text transform="translate(433.85,146.90) scale(1,1.05)" text-anchor="middle" font-size="11.7">0.000</text>
<line x1="481.57" y1="128.5" x2="481.57" y2="132.5" stroke="#000" stroke-width="0.9"/>
<text transform="translate(481.57,146.90) scale(1,1.05)" text-anchor="middle" font-size="11.7">0.006</text>
<line x1="529.30" y1="128.5" x2="529.30" y2="132.5" stroke="#000" stroke-width="0.9"/>
<text transform="translate(529.30,146.90) scale(1,1.05)" text-anchor="middle" font-size="11.7">0.012</text>
<text transform="translate(433.85,163.50) scale(1,1.05)" text-anchor="middle" font-size="11.9">Strain</text>
<text transform="translate(289.90,71.30) rotate(-90)" text-anchor="middle" font-size="12.0">Stress in MPa</text>
<text transform="translate(346.36,27.80) scale(1,1.05)" font-size="9.5">HT0</text>
<rect x="70.9" y="168.5" width="190.80" height="115" fill="none" stroke="#000" stroke-width="0.9"/>
<line x1="66.9" y1="283.50" x2="70.9" y2="283.50" stroke="#000" stroke-width="0.9"/>
<text transform="translate(62.30,289.10) scale(1,1.05)" text-anchor="end" font-size="11.7">−800</text>
<line x1="66.9" y1="254.75" x2="70.9" y2="254.75" stroke="#000" stroke-width="0.9"/>
<text transform="translate(62.30,260.35) scale(1,1.05)" text-anchor="end" font-size="11.7">−400</text>
<line x1="66.9" y1="226.00" x2="70.9" y2="226.00" stroke="#000" stroke-width="0.9"/>
<text transform="translate(62.30,231.60) scale(1,1.05)" text-anchor="end" font-size="11.7">0</text>
<line x1="66.9" y1="197.25" x2="70.9" y2="197.25" stroke="#000" stroke-width="0.9"/>
<text transform="translate(62.30,202.85) scale(1,1.05)" text-anchor="end" font-size="11.7">400</text>
<line x1="66.9" y1="168.50" x2="70.9" y2="168.50" stroke="#000" stroke-width="0.9"/>
<text transform="translate(62.30,174.10) scale(1,1.05)" text-anchor="end" font-size="11.7">800</text>
<line x1="76.90" y1="283.5" x2="76.90" y2="287.5" stroke="#000" stroke-width="0.9"/>
<text transform="translate(76.90,301.90) scale(1,1.05)" text-anchor="middle" font-size="11.7">0</text>
<line x1="138.53" y1="283.5" x2="138.53" y2="287.5" stroke="#000" stroke-width="0.9"/>
<text transform="translate(138.53,301.90) scale(1,1.05)" text-anchor="middle" font-size="11.7">5000</text>
<line x1="200.17" y1="283.5" x2="200.17" y2="287.5" stroke="#000" stroke-width="0.9"/>
<text transform="translate(200.17,301.90) scale(1,1.05)" text-anchor="middle" font-size="11.7">10,000</text>
<line x1="261.81" y1="283.5" x2="261.81" y2="287.5" stroke="#000" stroke-width="0.9"/>
<text transform="translate(261.81,301.90) scale(1,1.05)" text-anchor="middle" font-size="11.7">15,000</text>
<text transform="translate(166.70,318.50) scale(1,1.05)" text-anchor="middle" font-size="11.9">Time in s</text>
<text transform="translate(22.40,226.30) rotate(-90)" text-anchor="middle" font-size="12.0">Stress in MPa</text>
<text transform="translate(237.15,182.80) scale(1,1.05)" font-size="9.5">HT1</text>
<rect x="338.4" y="168.5" width="190.90" height="115" fill="none" stroke="#000" stroke-width="0.9"/>
<line x1="334.4" y1="283.50" x2="338.4" y2="283.50" stroke="#000" stroke-width="0.9"/>
<text transform="translate(329.80,289.10) scale(1,1.05)" text-anchor="end" font-size="11.7">−800</text>
<line x1="334.4" y1="254.75" x2="338.4" y2="254.75" stroke="#000" stroke-width="0.9"/>
<text transform="translate(329.80,260.35) scale(1,1.05)" text-anchor="end" font-size="11.7">−400</text>
<line x1="334.4" y1="226.00" x2="338.4" y2="226.00" stroke="#000" stroke-width="0.9"/>
<text transform="translate(329.80,231.60) scale(1,1.05)" text-anchor="end" font-size="11.7">0</text>
<line x1="334.4" y1="197.25" x2="338.4" y2="197.25" stroke="#000" stroke-width="0.9"/>
<text transform="translate(329.80,202.85) scale(1,1.05)" text-anchor="end" font-size="11.7">400</text>
<line x1="334.4" y1="168.50" x2="338.4" y2="168.50" stroke="#000" stroke-width="0.9"/>
<text transform="translate(329.80,174.10) scale(1,1.05)" text-anchor="end" font-size="11.7">800</text>
<line x1="338.40" y1="283.5" x2="338.40" y2="287.5" stroke="#000" stroke-width="0.9"/>
<text transform="translate(338.40,301.90) scale(1,1.05)" text-anchor="middle" font-size="11.7">−0.012</text>
<line x1="386.13" y1="283.5" x2="386.13" y2="287.5" stroke="#000" stroke-width="0.9"/>
<text transform="translate(386.13,301.90) scale(1,1.05)" text-anchor="middle" font-size="11.7">−0.006</text>
<line x1="433.85" y1="283.5" x2="433.85" y2="287.5" stroke="#000" stroke-width="0.9"/>
<text transform="translate(433.85,301.90) scale(1,1.05)" text-anchor="middle" font-size="11.7">0.000</text>
<line x1="481.57" y1="283.5" x2="481.57" y2="287.5" stroke="#000" stroke-width="0.9"/>
<text transform="translate(481.57,301.90) scale(1,1.05)" text-anchor="middle" font-size="11.7">0.006</text>
<line x1="529.30" y1="283.5" x2="529.30" y2="287.5" stroke="#000" stroke-width="0.9"/>
<text transform="translate(529.30,301.90) scale(1,1.05)" text-anchor="middle" font-size="11.7">0.012</text>
<text transform="translate(433.85,318.50) scale(1,1.05)" text-anchor="middle" font-size="11.9">Strain</text>
<text transform="translate(289.90,226.30) rotate(-90)" text-anchor="middle" font-size="12.0">Stress in MPa</text>
<text transform="translate(346.36,182.80) scale(1,1.05)" font-size="9.5">HT1</text>
<rect x="70.9" y="323.5" width="190.80" height="115" fill="none" stroke="#000" stroke-width="0.9"/>
<line x1="66.9" y1="438.50" x2="70.9" y2="438.50" stroke="#000" stroke-width="0.9"/>
<text transform="translate(62.30,444.10) scale(1,1.05)" text-anchor="end" font-size="11.7">−800</text>
<line x1="66.9" y1="409.75" x2="70.9" y2="409.75" stroke="#000" stroke-width="0.9"/>
<text transform="translate(62.30,415.35) scale(1,1.05)" text-anchor="end" font-size="11.7">−400</text>
<line x1="66.9" y1="381.00" x2="70.9" y2="381.00" stroke="#000" stroke-width="0.9"/>
<text transform="translate(62.30,386.60) scale(1,1.05)" text-anchor="end" font-size="11.7">0</text>
<line x1="66.9" y1="352.25" x2="70.9" y2="352.25" stroke="#000" stroke-width="0.9"/>
<text transform="translate(62.30,357.85) scale(1,1.05)" text-anchor="end" font-size="11.7">400</text>
<line x1="66.9" y1="323.50" x2="70.9" y2="323.50" stroke="#000" stroke-width="0.9"/>
<text transform="translate(62.30,329.10) scale(1,1.05)" text-anchor="end" font-size="11.7">800</text>
<line x1="76.90" y1="438.5" x2="76.90" y2="442.5" stroke="#000" stroke-width="0.9"/>
<text transform="translate(76.90,456.90) scale(1,1.05)" text-anchor="middle" font-size="11.7">0</text>
<line x1="138.53" y1="438.5" x2="138.53" y2="442.5" stroke="#000" stroke-width="0.9"/>
<text transform="translate(138.53,456.90) scale(1,1.05)" text-anchor="middle" font-size="11.7">5000</text>
<line x1="200.17" y1="438.5" x2="200.17" y2="442.5" stroke="#000" stroke-width="0.9"/>
<text transform="translate(200.17,456.90) scale(1,1.05)" text-anchor="middle" font-size="11.7">10,000</text>
<line x1="261.81" y1="438.5" x2="261.81" y2="442.5" stroke="#000" stroke-width="0.9"/>
<text transform="translate(261.81,456.90) scale(1,1.05)" text-anchor="middle" font-size="11.7">15,000</text>
<text transform="translate(166.70,473.50) scale(1,1.05)" text-anchor="middle" font-size="11.9">Time in s</text>
<text transform="translate(22.40,381.30) rotate(-90)" text-anchor="middle" font-size="12.0">Stress in MPa</text>
<text transform="translate(237.15,337.80) scale(1,1.05)" font-size="9.5">HT2</text>
<rect x="338.4" y="323.5" width="190.90" height="115" fill="none" stroke="#000" stroke-width="0.9"/>
<line x1="334.4" y1="438.50" x2="338.4" y2="438.50" stroke="#000" stroke-width="0.9"/>
<text transform="translate(329.80,444.10) scale(1,1.05)" text-anchor="end" font-size="11.7">−800</text>
<line x1="334.4" y1="409.75" x2="338.4" y2="409.75" stroke="#000" stroke-width="0.9"/>
<text transform="translate(329.80,415.35) scale(1,1.05)" text-anchor="end" font-size="11.7">−400</text>
<line x1="334.4" y1="381.00" x2="338.4" y2="381.00" stroke="#000" stroke-width="0.9"/>
<text transform="translate(329.80,386.60) scale(1,1.05)" text-anchor="end" font-size="11.7">0</text>
<line x1="334.4" y1="352.25" x2="338.4" y2="352.25" stroke="#000" stroke-width="0.9"/>
<text transform="translate(329.80,357.85) scale(1,1.05)" text-anchor="end" font-size="11.7">400</text>
<line x1="334.4" y1="323.50" x2="338.4" y2="323.50" stroke="#000" stroke-width="0.9"/>
<text transform="translate(329.80,329.10) scale(1,1.05)" text-anchor="end" font-size="11.7">800</text>
<line x1="338.40" y1="438.5" x2="338.40" y2="442.5" stroke="#000" stroke-width="0.9"/>
<text transform="translate(338.40,456.90) scale(1,1.05)" text-anchor="middle" font-size="11.7">−0.012</text>
<line x1="386.13" y1="438.5" x2="386.13" y2="442.5" stroke="#000" stroke-width="0.9"/>
<text transform="translate(386.13,456.90) scale(1,1.05)" text-anchor="middle" font-size="11.7">−0.006</text>
<line x1="433.85" y1="438.5" x2="433.85" y2="442.5" stroke="#000" stroke-width="0.9"/>
<text transform="translate(433.85,456.90) scale(1,1.05)" text-anchor="middle" font-size="11.7">0.000</text>
<line x1="481.57" y1="438.5" x2="481.57" y2="442.5" stroke="#000" stroke-width="0.9"/>
<text transform="translate(481.57,456.90) scale(1,1.05)" text-anchor="middle" font-size="11.7">0.006</text>
<line x1="529.30" y1="438.5" x2="529.30" y2="442.5" stroke="#000" stroke-width="0.9"/>
<text transform="translate(529.30,456.90) scale(1,1.05)" text-anchor="middle" font-size="11.7">0.012</text>
<text transform="translate(433.85,473.50) scale(1,1.05)" text-anchor="middle" font-size="11.9">Strain</text>
<text transform="translate(289.90,381.30) rotate(-90)" text-anchor="middle" font-size="12.0">Stress in MPa</text>
<text transform="translate(346.36,337.80) scale(1,1.05)" font-size="9.5">HT2</text>
<rect x="120.5" y="484.9" width="360.8" height="38.4" rx="2.5" ry="2.5" fill="#fff" stroke="#000" stroke-width="0.9"/>
<line x1="124.0" y1="494.2" x2="150.2" y2="494.2" stroke="#008000" stroke-width="2.5"/>
<text transform="translate(159.20,499.50) scale(1,1.05)" font-size="11.9">Model HT0</text>
<text transform="translate(159.20,516.60) scale(1,1.05)" font-size="11.9">Test HT0</text>
<circle cx="137.1" cy="512.2" r="2.2" fill="#000"/>
<line x1="249.3" y1="494.2" x2="275.5" y2="494.2" stroke="#0000ff" stroke-width="2.5"/>
<text transform="translate(284.50,499.50) scale(1,1.05)" font-size="11.9">Model HT1</text>
<text transform="translate(284.50,516.60) scale(1,1.05)" font-size="11.9">Test HT1</text>
<path d="M260.1,514.3 L264.7,514.3 L262.4,509.7 Z" fill="#000"/>
<line x1="374.6" y1="494.2" x2="400.8" y2="494.2" stroke="#ff0000" stroke-width="2.5"/>
<text transform="translate(409.80,499.50) scale(1,1.05)" font-size="11.9">Model HT2</text>
<text transform="translate(409.80,516.60) scale(1,1.05)" font-size="11.9">Test HT2</text>
<circle cx="387.7" cy="512.2" r="2.2" fill="#000"/>
</svg>
</body></html>
